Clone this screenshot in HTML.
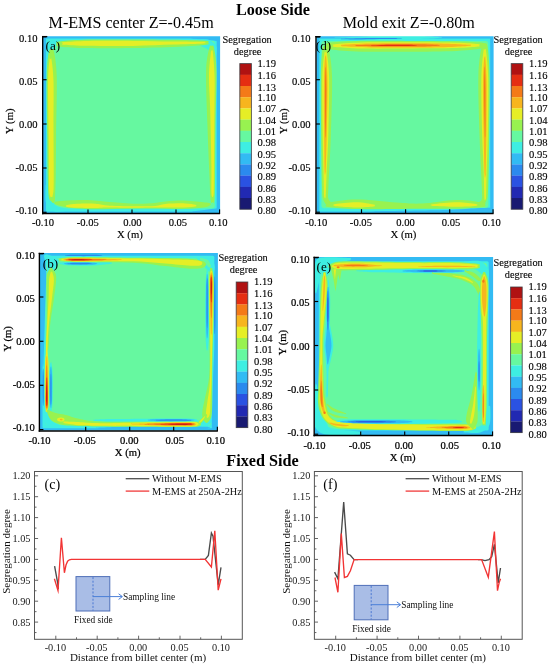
<!DOCTYPE html>
<html lang="en"><head><meta charset="utf-8"><title>Segregation degree - Loose Side / Fixed Side</title>
<style>html,body{margin:0;padding:0;background:#fff}body{width:550px;height:667px;overflow:hidden}svg{display:block}text{font-family:"Liberation Serif", "DejaVu Serif", serif}</style></head><body>
<svg width="550" height="667" viewBox="0 0 550 667">
<rect width="550" height="667" fill="#fff"/>
<defs><filter id="soft" x="-5%" y="-5%" width="110%" height="110%" color-interpolation-filters="sRGB"><feGaussianBlur stdDeviation="0.4"/></filter></defs>
<text x="236" y="15.3" font-size="16.15" font-weight="bold" fill="#000">Loose Side</text>
<text x="226.3" y="465.5" font-size="16.2" font-weight="bold" fill="#000">Fixed Side</text>
<text x="48.6" y="28.3" font-size="16.1" fill="#000">M-EMS center Z=-0.45m</text>
<text x="342.8" y="28.3" font-size="16.1" fill="#000">Mold exit Z=-0.80m</text>
<clipPath id="cpa"><rect x="0" y="0" width="176.8" height="176.8"/></clipPath>
<g transform="translate(43.1 36.2) scale(1.0011 1.0011)" clip-path="url(#cpa)"><g filter="url(#soft)">
<rect x="-4" y="-4" width="184.8" height="184.8" fill="#3eeee2"/>
<rect x="-4" y="-4" width="6.9" height="184.8" fill="#32bbf3"/>
<rect x="173.4" y="-4" width="7.4" height="184.8" fill="#32bbf3"/>
<rect x="-4" y="-4" width="184.8" height="6.3" fill="#32bbf3"/>
<rect x="-4" y="175.2" width="184.8" height="5.6" fill="#32bbf3"/>
<rect x="5" y="4.6" width="166.6" height="167.4" rx="3" fill="#66f8a0"/>
<path d="M149.6 175.22C149.61 175.35 147.44 175.5 150.02 175.6C152.6 175.7 160.56 175.77 165.07 175.8C169.59 175.83 174.78 176.15 177.1 175.8C179.42 175.45 179.03 174.37 179 173.7C178.96 173.03 179.25 171.92 176.9 171.8C174.56 171.69 169.41 172.5 164.93 173C160.44 173.5 152.53 174.43 149.98 174.8C147.42 175.17 149.59 175.09 149.6 175.22Z" fill="#32bbf3"/>
<path d="M149 1.58C148.99 1.91 146.82 2.2 149.98 2.6C153.13 3 163.46 3.6 167.94 4C172.43 4.4 174.94 5.24 176.88 5C178.83 4.75 179.56 3.38 179.6 2.52C179.64 1.65 179.04 0.22 177.12 -0.2C175.19 -0.62 172.57 -0.13 168.06 0C163.54 0.13 153.2 0.34 150.02 0.6C146.85 0.86 149.01 1.24 149 1.58Z" fill="#32bbf3"/>
<path d="M150.54 4.67C150.43 5.16 149.86 5.31 151.67 6.46C153.47 7.62 158.93 10.27 161.37 11.59C163.8 12.9 164.83 13.07 166.28 14.38C167.73 15.68 169.12 18.4 170.06 19.41C171 20.42 171.43 20.58 171.91 20.44C172.39 20.3 172.81 20.39 172.94 18.59C173.08 16.78 174.1 12.15 172.72 9.62C171.33 7.09 168.03 4.43 164.63 3.41C161.24 2.4 154.68 3.33 152.33 3.54C149.98 3.75 150.65 4.18 150.54 4.67Z" fill="#3eeee2"/>
<path d="M3.54 19.11C3.91 19.26 3.94 19.63 5.11 18.46C6.28 17.28 8.96 13.72 10.57 12.06C12.18 10.4 12.85 9.49 14.77 8.48C16.7 7.47 20.75 6.59 22.12 5.99C23.49 5.39 23.03 5.21 22.99 4.88C22.95 4.55 23.5 4.23 21.88 4.01C20.25 3.78 16.14 3.03 13.23 3.52C10.32 4.01 6.15 4.6 4.43 6.94C2.7 9.28 3.04 15.51 2.89 17.54C2.74 19.57 3.17 18.96 3.54 19.11Z" fill="#3eeee2"/>
<path d="M3.32 149.02C2.99 149.08 2.55 147.14 2.52 150.18C2.49 153.23 1.76 163.2 3.14 167.3C4.53 171.39 7.37 173.58 10.83 174.76C14.29 175.95 21.52 174.6 23.88 174.39C26.24 174.19 24.95 173.85 24.99 173.52C25.03 173.18 26.09 173.12 24.12 172.41C22.15 171.69 15.54 170.52 13.17 169.24C10.79 167.95 11.31 167.94 9.86 164.7C8.41 161.47 5.57 152.43 4.48 149.82C3.39 147.2 3.64 148.96 3.32 149.02Z" fill="#3eeee2"/>
<path d="M13.4 7.81C13.4 8.68 11.58 9.72 16.01 10.4C20.45 11.08 27.67 11.67 40.01 11.9C52.35 12.13 73.36 12.08 90.03 11.8C106.7 11.52 127.88 10.73 140.04 10.2C152.21 9.67 158.88 9.21 163.03 8.6C167.19 7.99 165.01 7.23 165 6.57C164.99 5.9 167.14 5.06 162.97 4.6C158.79 4.14 152.12 4 139.96 3.8C127.79 3.6 106.63 3.45 89.97 3.4C73.31 3.35 52.32 3.2 39.99 3.5C27.66 3.8 20.42 4.48 15.99 5.2C11.56 5.92 13.4 6.94 13.4 7.81Z" fill="#98f250"/>
<path d="M8.27 13.4C7.4 13.41 6.48 11.6 5.7 16.03C4.92 20.47 3.85 26.02 3.6 40.02C3.35 54.01 4.03 83.33 4.2 100C4.37 116.67 4.37 129.98 4.6 140.01C4.83 150.04 4.96 155.95 5.61 160.18C6.25 164.41 7.65 164.31 8.44 165.37C9.24 166.44 9.85 166.68 10.37 166.56C10.89 166.43 11.29 165.75 11.56 164.63C11.83 163.5 11.82 163.93 11.99 159.82C12.17 155.71 12.43 149.96 12.6 139.99C12.77 130.02 12.83 116.67 13 100C13.17 83.33 13.95 53.99 13.6 39.98C13.25 25.98 11.79 20.4 10.9 15.97C10.01 11.54 9.13 13.39 8.27 13.4Z" fill="#98f250"/>
<path d="M168.44 9.6C167.64 9.59 166.94 7.73 166 11.96C165.06 16.19 163.1 21.97 162.8 34.99C162.5 48 163.63 72.53 164.2 90.04C164.77 107.55 165.67 127.71 166.2 140.04C166.73 152.37 166.9 159.72 167.4 164.01C167.9 168.31 168.62 165.8 169.21 165.8C169.81 165.79 170.57 168.29 171 163.99C171.43 159.68 171.6 152.3 171.8 139.96C172 127.62 171.97 107.45 172.2 89.96C172.43 72.47 173.43 48 173.2 35.01C172.97 22.03 171.59 16.28 170.8 12.04C170.01 7.81 169.24 9.61 168.44 9.6Z" fill="#98f250"/>
<path d="M11.41 166.47C11.36 167 10.63 167.41 12.87 168.19C15.1 168.98 19.49 170.43 24.82 171.2C30.15 171.96 37.32 172.56 44.84 172.8C52.35 173.03 60.7 172.7 69.9 172.6C79.1 172.5 89.16 172.2 100.03 172.2C110.9 172.2 125.1 172.8 135.1 172.6C145.1 172.4 154.87 171.53 160.03 171C165.2 170.47 164.87 169.91 166.09 169.4C167.32 168.88 167.43 168.37 167.4 167.91C167.37 167.44 167.15 166.95 165.91 166.6C164.67 166.25 165.13 166.2 159.97 165.8C154.8 165.4 144.9 163.93 134.9 164.2C124.9 164.47 110.77 167.13 99.97 167.4C89.17 167.67 79.23 166.43 70.1 165.8C60.96 165.17 52.65 163.9 45.16 163.6C37.68 163.3 30.52 163.77 25.18 164C19.84 164.24 15.43 164.6 13.13 165.01C10.84 165.42 11.45 165.94 11.41 166.47Z" fill="#98f250"/>
<path d="M19.7 7.2C19.7 7.63 16.78 8.1 21 8.5C25.22 8.9 33.5 9.4 45 9.6C56.5 9.8 75.84 9.9 90.01 9.7C104.18 9.5 118.35 8.8 130.02 8.4C141.68 8 154.87 7.64 160.01 7.3C165.16 6.96 160.9 6.69 160.9 6.39C160.9 6.09 165.14 5.7 159.99 5.5C154.83 5.3 141.65 5.33 129.98 5.2C118.32 5.07 104.15 4.77 89.99 4.7C75.82 4.63 56.5 4.6 45 4.8C33.5 5 25.22 5.5 21 5.9C16.78 6.3 19.7 6.77 19.7 7.2Z" fill="#e6ee26"/>
<path d="M7.38 22.9C7.02 22.91 6.7 20.33 6.3 24.02C5.9 27.7 5.15 34.02 5 45.02C4.85 56.02 5.27 75.85 5.4 90.01C5.53 104.18 5.68 119.68 5.8 130.02C5.92 140.35 5.88 147.09 6.1 152.01C6.32 156.92 6.73 158.05 7.1 159.5C7.47 160.95 7.9 160.7 8.3 160.7C8.7 160.7 9.13 160.95 9.5 159.5C9.87 158.05 10.32 156.91 10.5 151.99C10.68 147.07 10.62 140.32 10.6 129.98C10.58 119.65 10.43 104.15 10.4 89.99C10.37 75.82 10.72 55.98 10.4 44.98C10.08 33.98 9 27.66 8.5 23.98C8 20.3 7.75 22.89 7.38 22.9Z" fill="#e6ee26"/>
<path d="M168.6 15C168.27 15 168.08 11.83 167.6 16C167.12 20.17 165.83 31.02 165.7 40.02C165.57 49.03 166.52 60.86 166.8 70.03C167.08 79.19 167.18 85.02 167.4 95.01C167.62 105.01 167.98 120 168.1 130C168.22 140 168 150 168.1 155C168.2 160 168.5 159.07 168.7 160C168.9 160.93 169.1 160.6 169.3 160.6C169.5 160.6 169.7 160.93 169.9 160C170.1 159.07 170.37 160 170.5 155C170.63 150 170.62 140 170.7 130C170.78 120 170.92 104.99 171 94.99C171.08 84.98 171.15 79.14 171.2 69.97C171.25 60.8 171.57 48.97 171.3 39.98C171.03 30.98 170.05 20.17 169.6 16C169.15 11.84 168.94 15 168.6 15Z" fill="#e6ee26"/>
<path d="M23.1 169.62C23.11 169.92 22.2 170.2 24.02 170.5C25.84 170.8 29.36 171.23 34.01 171.4C38.67 171.57 46.97 171.57 51.96 171.5C56.95 171.43 57.63 171.03 63.97 171C70.31 170.97 81.98 171.28 90 171.3C98.01 171.32 106.69 171.13 112.03 171.1C117.38 171.07 117.08 171.11 122.08 171.1C127.07 171.08 137.02 171.17 142.01 171C146.99 170.83 150.17 170.4 151.98 170.1C153.8 169.8 152.89 169.52 152.9 169.22C152.91 168.92 153.84 168.67 152.02 168.3C150.2 167.93 147.01 167.13 141.99 167C136.98 166.87 126.93 167.08 121.92 167.5C116.92 167.92 117.29 169.1 111.97 169.5C106.65 169.9 97.99 169.98 90 169.9C82.02 169.82 70.36 169.43 64.03 169C57.7 168.57 57.05 167.57 52.04 167.3C47.03 167.03 38.66 167.17 33.99 167.4C29.31 167.63 25.8 168.33 23.98 168.7C22.17 169.07 23.09 169.32 23.1 169.62Z" fill="#e6ee26"/>
</g></g>
<line x1="42.7" y1="35.9" x2="42.7" y2="214.3" stroke="#000" stroke-width="1.4"/>
<line x1="42" y1="213.6" x2="220.1" y2="213.6" stroke="#000" stroke-width="1.5"/>
<line x1="42" y1="36.55" x2="47.3" y2="36.55" stroke="#000" stroke-width="1.2"/>
<line x1="42.7" y1="36.9" x2="46.6" y2="36.9" stroke="#000" stroke-width="1.15"/>
<text x="37.6" y="41.8" font-size="10.6" text-anchor="end" fill="#000" stroke="#000" stroke-width="0.14">0.10</text>
<text x="43.1" y="226.1" font-size="10.6" text-anchor="middle" fill="#000" stroke="#000" stroke-width="0.14">-0.10</text>
<line x1="42.7" y1="79.7" x2="46.6" y2="79.7" stroke="#000" stroke-width="1.15"/>
<text x="37.6" y="84.9" font-size="10.6" text-anchor="end" fill="#000" stroke="#000" stroke-width="0.14">0.05</text>
<line x1="88" y1="213.6" x2="88" y2="209.4" stroke="#000" stroke-width="1.15"/>
<text x="87.7" y="226.1" font-size="10.6" text-anchor="middle" fill="#000" stroke="#000" stroke-width="0.14">-0.05</text>
<line x1="42.7" y1="124" x2="46.6" y2="124" stroke="#000" stroke-width="1.15"/>
<text x="37.6" y="128" font-size="10.6" text-anchor="end" fill="#000" stroke="#000" stroke-width="0.14">0.00</text>
<line x1="132" y1="213.6" x2="132" y2="209.4" stroke="#000" stroke-width="1.15"/>
<text x="132.4" y="226.1" font-size="10.6" text-anchor="middle" fill="#000" stroke="#000" stroke-width="0.14">0.00</text>
<line x1="42.7" y1="168" x2="46.6" y2="168" stroke="#000" stroke-width="1.15"/>
<text x="37.6" y="171.1" font-size="10.6" text-anchor="end" fill="#000" stroke="#000" stroke-width="0.14">-0.05</text>
<line x1="176" y1="213.6" x2="176" y2="209.4" stroke="#000" stroke-width="1.15"/>
<text x="177.9" y="226.1" font-size="10.6" text-anchor="middle" fill="#000" stroke="#000" stroke-width="0.14">0.05</text>
<line x1="42.7" y1="212.3" x2="46.6" y2="212.3" stroke="#000" stroke-width="1.15"/>
<text x="37.6" y="214.2" font-size="10.6" text-anchor="end" fill="#000" stroke="#000" stroke-width="0.14">-0.10</text>
<line x1="219.55" y1="213.6" x2="219.55" y2="209.4" stroke="#000" stroke-width="1.15"/>
<text x="218.3" y="226.1" font-size="10.6" text-anchor="middle" fill="#000" stroke="#000" stroke-width="0.14">0.10</text>
<text x="129.9" y="238.4" font-size="10.7" text-anchor="middle" fill="#000" stroke="#000" stroke-width="0.14">X (m)</text>
<text transform="translate(13.4 121.2) rotate(-90)" font-size="10.7" text-anchor="middle" fill="#000" stroke="#000" stroke-width="0.14">Y (m)</text>
<text x="45.6" y="50.3" font-size="13.2" fill="#000">(a)</text>
<rect x="239.8" y="63.6" width="11.6" height="11.35" fill="#b01212"/>
<rect x="239.8" y="74.8" width="11.6" height="11.35" fill="#e52e12"/>
<rect x="239.8" y="86" width="11.6" height="11.35" fill="#f47a18"/>
<rect x="239.8" y="97.2" width="11.6" height="11.35" fill="#f7b51e"/>
<rect x="239.8" y="108.4" width="11.6" height="11.35" fill="#e6ee26"/>
<rect x="239.8" y="119.6" width="11.6" height="11.35" fill="#98f250"/>
<rect x="239.8" y="130.8" width="11.6" height="11.35" fill="#66f8a0"/>
<rect x="239.8" y="142" width="11.6" height="11.35" fill="#3eeee2"/>
<rect x="239.8" y="153.2" width="11.6" height="11.35" fill="#32bbf3"/>
<rect x="239.8" y="164.4" width="11.6" height="11.35" fill="#2b8aee"/>
<rect x="239.8" y="175.6" width="11.6" height="11.35" fill="#2a52e2"/>
<rect x="239.8" y="186.8" width="11.6" height="11.35" fill="#2129b2"/>
<rect x="239.8" y="198" width="11.6" height="11.35" fill="#191a72"/>
<rect x="239.8" y="63.6" width="11.6" height="145.6" fill="none" stroke="#3a3a40" stroke-opacity=".85" stroke-width=".9"/>
<text x="257.6" y="66.7" font-size="10.55" fill="#000" stroke="#000" stroke-width=".12">1.19</text>
<text x="257.6" y="78.96" font-size="10.55" fill="#000" stroke="#000" stroke-width=".12">1.16</text>
<text x="257.6" y="90.92" font-size="10.55" fill="#000" stroke="#000" stroke-width=".12">1.13</text>
<text x="257.6" y="100.78" font-size="10.55" fill="#000" stroke="#000" stroke-width=".12">1.10</text>
<text x="257.6" y="112.14" font-size="10.55" fill="#000" stroke="#000" stroke-width=".12">1.07</text>
<text x="257.6" y="123.5" font-size="10.55" fill="#000" stroke="#000" stroke-width=".12">1.04</text>
<text x="257.6" y="134.86" font-size="10.55" fill="#000" stroke="#000" stroke-width=".12">1.01</text>
<text x="257.6" y="146.22" font-size="10.55" fill="#000" stroke="#000" stroke-width=".12">0.98</text>
<text x="257.6" y="157.58" font-size="10.55" fill="#000" stroke="#000" stroke-width=".12">0.95</text>
<text x="257.6" y="168.94" font-size="10.55" fill="#000" stroke="#000" stroke-width=".12">0.92</text>
<text x="257.6" y="180.3" font-size="10.55" fill="#000" stroke="#000" stroke-width=".12">0.89</text>
<text x="257.6" y="191.66" font-size="10.55" fill="#000" stroke="#000" stroke-width=".12">0.86</text>
<text x="257.6" y="203.02" font-size="10.55" fill="#000" stroke="#000" stroke-width=".12">0.83</text>
<text x="257.6" y="214.38" font-size="10.55" fill="#000" stroke="#000" stroke-width=".12">0.80</text>
<text x="222.4" y="42.5" font-size="10.35" fill="#000" stroke="#000" stroke-width=".1">Segregation</text>
<text x="233.8" y="54.9" font-size="10.35" fill="#000" stroke="#000" stroke-width=".1">degree</text>
<clipPath id="cpd"><rect x="0" y="0" width="176.8" height="176.8"/></clipPath>
<g transform="translate(316.4 36.3) scale(1.0023 1.0000)" clip-path="url(#cpd)"><g filter="url(#soft)">
<rect x="-4" y="-4" width="184.8" height="184.8" fill="#3eeee2"/>
<rect x="-4" y="-4" width="6.9" height="184.8" fill="#32bbf3"/>
<rect x="173.4" y="-4" width="7.4" height="184.8" fill="#32bbf3"/>
<rect x="-4" y="-4" width="184.8" height="6.3" fill="#32bbf3"/>
<rect x="-4" y="175.2" width="184.8" height="5.6" fill="#32bbf3"/>
<rect x="5" y="4.6" width="166.6" height="167.4" rx="3" fill="#66f8a0"/>
<path d="M43.6 1C43.6 1.13 40.27 1.13 44 1.4C47.73 1.67 56 2.4 66 2.6C76 2.8 94.34 2.8 104 2.6C113.67 2.4 120.6 1.67 124 1.4C127.4 1.13 124.4 1.13 124.4 1C124.4 0.86 127.4 0.83 124 0.6C120.6 0.37 113.66 -0.23 104 -0.4C94.33 -0.57 76 -0.57 66 -0.4C56 -0.23 47.74 0.37 44 0.6C40.27 0.83 43.6 0.86 43.6 1Z" fill="#3eeee2"/>
<path d="M19.7 1.4C19.7 1.5 14.95 1.65 20 1.7C25.06 1.75 40.01 1.8 50.01 1.7C60.01 1.6 74.92 1.28 80 1.1C85.09 0.92 80.5 0.76 80.5 0.6C80.5 0.43 85.08 0.18 80 0.1C74.91 0.02 59.99 -0.07 49.99 0.1C39.99 0.27 25.04 0.88 20 1.1C14.95 1.32 19.7 1.31 19.7 1.4Z" fill="#3eeee2"/>
<path d="M25.75 2.6C25.75 2.68 22.79 2.77 26 2.85C29.21 2.93 38 3.11 45 3.1C52 3.09 61.5 2.92 68 2.8C74.5 2.68 81.3 2.5 84 2.4C86.7 2.3 84.2 2.27 84.2 2.2C84.2 2.13 86.7 2.07 84 2C81.3 1.93 74.5 1.82 68 1.8C61.5 1.78 52 1.81 45 1.9C38 1.99 29.21 2.23 26 2.35C22.79 2.47 25.75 2.52 25.75 2.6Z" fill="#2b8aee"/>
<path d="M59.6 175.4C59.6 175.54 48.27 175.73 60 175.8C71.74 175.87 113.34 175.77 130.01 175.8C146.69 175.83 152.21 175.97 160.04 176C167.88 176.03 173.83 176.37 177.03 176C180.22 175.63 179.21 174.51 179.2 173.77C179.19 173.04 180.18 171.9 176.97 171.6C173.77 171.3 167.79 171.63 159.96 172C152.13 172.37 146.65 173.3 129.99 173.8C113.33 174.3 71.73 174.73 60 175C48.27 175.27 59.6 175.27 59.6 175.4Z" fill="#32bbf3"/>
<path d="M9 9.57C8.99 10.57 6.81 11.68 11.97 12.6C17.13 13.52 26.97 14.63 39.97 15.1C52.98 15.57 73.33 15.48 90.01 15.4C106.68 15.32 127.21 15.2 140.05 14.6C152.89 14 162.13 12.71 167.06 11.8C171.98 10.89 169.62 10.01 169.6 9.14C169.58 8.28 171.88 7.29 166.94 6.6C162 5.91 152.77 5.33 139.95 5C127.13 4.67 106.65 4.65 89.99 4.6C73.34 4.55 53.02 4.37 40.03 4.7C27.03 5.03 17.2 5.79 12.03 6.6C6.86 7.41 9.01 8.57 9 9.57Z" fill="#98f250"/>
<path d="M9.11 10C8.11 10.03 6.99 8.08 6.2 13.09C5.42 18.09 4.63 25.55 4.4 40.03C4.17 54.5 4.6 81.62 4.8 99.95C5 118.27 5.25 139.36 5.6 149.99C5.95 160.62 5.78 160.38 6.9 163.7C8.02 167.02 10.89 168.83 12.31 169.91C13.73 170.99 14.85 170.66 15.41 170.19C15.97 169.72 16.27 168.4 15.69 167.09C15.1 165.77 12.52 165.14 11.9 162.3C11.29 159.45 11.58 160.38 12 150.01C12.42 139.64 13.8 118.39 14.4 100.05C15 81.71 15.97 54.5 15.6 39.97C15.23 25.45 13.28 17.91 12.2 12.91C11.12 7.92 10.11 9.97 9.11 10Z" fill="#98f250"/>
<path d="M167.86 8C166.86 7.98 165.84 5.61 164.8 10.94C163.76 16.27 161.93 25.14 161.6 39.99C161.27 54.84 162.23 81.71 162.8 100.04C163.37 118.38 164.65 139.45 165 149.98C165.35 160.51 165.64 160.45 164.93 163.23C164.22 166 161.49 165.61 160.74 166.64C160 167.68 160.03 168.94 160.44 169.46C160.86 169.98 161.75 170.54 163.26 169.76C164.76 168.98 168.11 168.06 169.47 164.77C170.83 161.48 170.91 160.82 171.4 150.02C171.89 139.22 172.17 118.29 172.4 99.96C172.63 81.62 173.07 54.83 172.8 40.01C172.53 25.2 171.62 16.4 170.8 11.06C169.98 5.73 168.86 8.02 167.86 8Z" fill="#98f250"/>
<path d="M9.8 168.43C9.81 169.16 7.01 169.87 12.03 170.6C17.05 171.33 28.62 172.47 39.93 172.8C51.24 173.13 69.06 172.67 79.91 172.6C90.77 172.53 95.03 172.43 105.06 172.4C115.09 172.37 129.95 172.7 140.1 172.4C150.25 172.1 161.28 171.26 165.97 170.6C170.65 169.94 168.19 169.17 168.2 168.43C168.21 167.7 170.75 167.01 166.03 166.2C161.32 165.39 150.08 163.43 139.9 163.6C129.72 163.77 114.91 166.77 104.94 167.2C94.97 167.63 90.9 166.87 80.09 166.2C69.28 165.53 51.42 163.2 40.07 163.2C28.72 163.2 17.01 165.33 11.97 166.2C6.92 167.07 9.79 167.7 9.8 168.43Z" fill="#98f250"/>
<path d="M17.1 9.31C17.1 9.77 13.85 10.22 18.51 10.7C23.16 11.18 33.09 11.95 45.01 12.2C56.92 12.45 74.17 12.27 90 12.2C105.84 12.13 128.17 12.12 140 11.8C151.84 11.48 157.29 10.77 161.01 10.3C164.72 9.83 162.3 9.43 162.3 8.99C162.3 8.56 164.71 8.13 160.99 7.7C157.28 7.27 151.83 6.68 140 6.4C128.16 6.12 105.83 6.03 90 6C74.16 5.97 56.91 5.88 44.99 6.2C33.07 6.52 23.14 7.38 18.49 7.9C13.85 8.42 17.1 8.84 17.1 9.31Z" fill="#e6ee26"/>
<path d="M9.19 16.2C8.76 16.2 8.45 13.21 7.9 17.51C7.35 21.8 6.18 29.08 5.9 42C5.62 54.91 6 79.48 6.2 94.98C6.4 110.48 6.85 124.15 7.1 134.99C7.35 145.82 7.47 155.69 7.7 159.99C7.93 164.3 8.23 160.8 8.49 160.8C8.76 160.8 9 164.3 9.3 160.01C9.6 155.71 9.85 145.85 10.3 135.01C10.75 124.18 11.6 110.52 12 95.02C12.4 79.52 12.95 54.93 12.7 42C12.45 29.08 11.08 21.8 10.5 17.49C9.92 13.19 9.63 16.2 9.19 16.2Z" fill="#e6ee26"/>
<path d="M168 13.7C167.57 13.7 167.27 10.28 166.7 15C166.13 19.72 164.83 28.67 164.6 42.01C164.37 55.34 164.92 79.51 165.3 95.01C165.68 110.51 166.52 123.84 166.9 135C167.28 146.17 167.35 157.37 167.6 162C167.85 166.63 168.13 162.8 168.4 162.8C168.67 162.8 168.95 166.63 169.2 162C169.45 157.37 169.58 146.16 169.9 135C170.22 123.83 170.85 110.49 171.1 94.99C171.35 79.49 171.7 55.32 171.4 41.99C171.1 28.66 169.87 19.72 169.3 15C168.73 10.28 168.43 13.7 168 13.7Z" fill="#e6ee26"/>
<path d="M17.8 168.81C17.8 169.21 15.32 169.6 19.01 170C22.71 170.4 33.65 171.17 39.97 171.2C46.3 171.23 53.96 170.53 56.96 170.2C59.97 169.87 57.99 169.57 58 169.24C58.01 168.9 60.03 168.74 57.04 168.2C54.04 167.66 46.37 166.1 40.03 166C33.69 165.9 22.69 167.13 18.99 167.6C15.28 168.07 17.8 168.41 17.8 168.81Z" fill="#e6ee26"/>
<path d="M115.1 168.82C115.11 169.12 111.87 169.44 116.02 169.7C120.17 169.96 132.85 170.42 140.01 170.4C147.17 170.38 155.65 169.9 158.98 169.6C162.31 169.3 159.99 168.95 160 168.62C160.01 168.29 162.36 168.04 159.02 167.6C155.69 167.16 147.16 165.95 139.99 166C132.82 166.05 120.13 167.43 115.98 167.9C111.83 168.37 115.09 168.52 115.1 168.82Z" fill="#e6ee26"/>
<path d="M26.2 9.2C26.2 9.47 22.2 9.67 27 10C31.8 10.33 42.84 11 55 11.2C67.17 11.4 86.67 11.3 100 11.2C113.34 11.1 126.17 10.88 135 10.6C143.84 10.32 149.92 9.77 153 9.5C156.09 9.23 153.5 9.16 153.5 9C153.5 8.83 156.08 8.73 153 8.5C149.91 8.27 143.83 7.85 135 7.6C126.16 7.35 113.33 7.07 100 7C86.66 6.93 67.16 6.97 55 7.2C42.83 7.43 31.8 8.07 27 8.4C22.2 8.73 26.2 8.93 26.2 9.2Z" fill="#f7b51e"/>
<path d="M39.6 9.2C39.6 9.33 34.93 9.43 40 9.6C45.07 9.77 59.17 10.15 70 10.25C80.83 10.35 96.33 10.32 105 10.2C113.67 10.08 119.1 9.68 122 9.5C124.9 9.32 122.4 9.23 122.4 9.1C122.4 8.97 124.9 8.88 122 8.7C119.1 8.52 113.67 8.12 105 8C96.33 7.88 80.83 7.82 70 7.95C59.16 8.08 45.07 8.59 40 8.8C34.93 9.01 39.6 9.07 39.6 9.2Z" fill="#f47a18"/>
<path d="M55.8 9.2C55.8 9.27 52.8 9.32 56 9.4C59.2 9.48 69 9.66 75 9.7C81 9.74 87.83 9.72 92 9.65C96.17 9.58 98.63 9.39 100 9.3C101.37 9.21 100.2 9.17 100.2 9.1C100.2 9.03 101.37 8.99 100 8.9C98.63 8.81 96.17 8.62 92 8.55C87.83 8.48 81 8.43 75 8.5C69 8.58 59.2 8.88 56 9C52.8 9.12 55.8 9.13 55.8 9.2Z" fill="#e52e12"/>
<path d="M9.2 20.4C9 20.4 8.87 16.9 8.6 21C8.33 25.1 7.75 33.5 7.6 45C7.45 56.5 7.58 74.99 7.7 89.99C7.82 104.99 8.12 127.41 8.3 135C8.48 142.58 8.63 135.5 8.8 135.5C8.96 135.5 9.02 142.59 9.3 135C9.58 127.42 10.22 105.01 10.5 90.01C10.78 75.01 11.12 56.5 11 45C10.88 33.5 10.1 25.1 9.8 21C9.5 16.9 9.4 20.4 9.2 20.4Z" fill="#f7b51e"/>
<path d="M9.3 31.75C9.22 31.75 9.17 28.63 9.05 32C8.93 35.37 8.66 44 8.6 52C8.54 60 8.65 72 8.7 80C8.75 88 8.83 96.63 8.9 100C8.97 103.37 9.03 100.2 9.1 100.2C9.17 100.2 9.2 103.37 9.3 100C9.4 96.63 9.58 88 9.7 80C9.82 72 10.02 60 10 52C9.97 44 9.67 35.38 9.55 32C9.43 28.62 9.38 31.75 9.3 31.75Z" fill="#f47a18"/>
<path d="M168 21.4C167.8 21.4 167.7 17.73 167.4 22C167.1 26.27 166.3 35.34 166.2 47.01C166.1 58.67 166.52 76.84 166.8 92.01C167.08 107.17 167.63 130.25 167.9 138C168.17 145.75 168.24 138.5 168.4 138.5C168.57 138.5 168.7 145.75 168.9 138C169.1 130.25 169.45 107.16 169.6 91.99C169.75 76.83 169.97 58.66 169.8 46.99C169.63 35.33 168.9 26.27 168.6 22C168.3 17.73 168.2 21.4 168 21.4Z" fill="#f7b51e"/>
<path d="M168 31.75C167.92 31.75 167.87 28.29 167.75 32C167.63 35.71 167.31 45.67 167.3 54C167.29 62.34 167.57 74.34 167.7 82C167.83 89.67 168 96.97 168.1 100C168.2 103.03 168.23 100.2 168.3 100.2C168.37 100.2 168.43 103.03 168.5 100C168.57 96.97 168.67 89.66 168.7 82C168.73 74.33 168.77 62.33 168.7 54C168.62 45.66 168.37 35.71 168.25 32C168.13 28.29 168.08 31.75 168 31.75Z" fill="#f47a18"/>
</g></g>
<line x1="316" y1="36" x2="316" y2="214.1" stroke="#000" stroke-width="1.4"/>
<line x1="315.3" y1="213.4" x2="493.6" y2="213.4" stroke="#000" stroke-width="1.5"/>
<line x1="315.3" y1="36.65" x2="320.6" y2="36.65" stroke="#000" stroke-width="1.2"/>
<line x1="316" y1="37" x2="319.9" y2="37" stroke="#000" stroke-width="1.15"/>
<text x="310.5" y="41.8" font-size="10.6" text-anchor="end" fill="#000" stroke="#000" stroke-width="0.14">0.10</text>
<text x="316.3" y="226.1" font-size="10.6" text-anchor="middle" fill="#000" stroke="#000" stroke-width="0.14">-0.10</text>
<line x1="316" y1="79.7" x2="319.9" y2="79.7" stroke="#000" stroke-width="1.15"/>
<text x="310.5" y="84.9" font-size="10.6" text-anchor="end" fill="#000" stroke="#000" stroke-width="0.14">0.05</text>
<line x1="361.5" y1="213.4" x2="361.5" y2="209.2" stroke="#000" stroke-width="1.15"/>
<text x="360.9" y="226.1" font-size="10.6" text-anchor="middle" fill="#000" stroke="#000" stroke-width="0.14">-0.05</text>
<line x1="316" y1="124" x2="319.9" y2="124" stroke="#000" stroke-width="1.15"/>
<text x="310.5" y="128" font-size="10.6" text-anchor="end" fill="#000" stroke="#000" stroke-width="0.14">0.00</text>
<line x1="405.6" y1="213.4" x2="405.6" y2="209.2" stroke="#000" stroke-width="1.15"/>
<text x="405.6" y="226.1" font-size="10.6" text-anchor="middle" fill="#000" stroke="#000" stroke-width="0.14">0.00</text>
<line x1="316" y1="168" x2="319.9" y2="168" stroke="#000" stroke-width="1.15"/>
<text x="310.5" y="171.1" font-size="10.6" text-anchor="end" fill="#000" stroke="#000" stroke-width="0.14">-0.05</text>
<line x1="449.7" y1="213.4" x2="449.7" y2="209.2" stroke="#000" stroke-width="1.15"/>
<text x="451.1" y="226.1" font-size="10.6" text-anchor="middle" fill="#000" stroke="#000" stroke-width="0.14">0.05</text>
<line x1="316" y1="212.2" x2="319.9" y2="212.2" stroke="#000" stroke-width="1.15"/>
<text x="310.5" y="214.2" font-size="10.6" text-anchor="end" fill="#000" stroke="#000" stroke-width="0.14">-0.10</text>
<line x1="493.05" y1="213.4" x2="493.05" y2="209.2" stroke="#000" stroke-width="1.15"/>
<text x="491.5" y="226.1" font-size="10.6" text-anchor="middle" fill="#000" stroke="#000" stroke-width="0.14">0.10</text>
<text x="403.5" y="238.4" font-size="10.7" text-anchor="middle" fill="#000" stroke="#000" stroke-width="0.14">X (m)</text>
<text transform="translate(286.6 121.2) rotate(-90)" font-size="10.7" text-anchor="middle" fill="#000" stroke="#000" stroke-width="0.14">Y (m)</text>
<text x="315.8" y="50.3" font-size="13.2" fill="#000">(d)</text>
<rect x="511.2" y="63.6" width="11.6" height="11.35" fill="#b01212"/>
<rect x="511.2" y="74.8" width="11.6" height="11.35" fill="#e52e12"/>
<rect x="511.2" y="86" width="11.6" height="11.35" fill="#f47a18"/>
<rect x="511.2" y="97.2" width="11.6" height="11.35" fill="#f7b51e"/>
<rect x="511.2" y="108.4" width="11.6" height="11.35" fill="#e6ee26"/>
<rect x="511.2" y="119.6" width="11.6" height="11.35" fill="#98f250"/>
<rect x="511.2" y="130.8" width="11.6" height="11.35" fill="#66f8a0"/>
<rect x="511.2" y="142" width="11.6" height="11.35" fill="#3eeee2"/>
<rect x="511.2" y="153.2" width="11.6" height="11.35" fill="#32bbf3"/>
<rect x="511.2" y="164.4" width="11.6" height="11.35" fill="#2b8aee"/>
<rect x="511.2" y="175.6" width="11.6" height="11.35" fill="#2a52e2"/>
<rect x="511.2" y="186.8" width="11.6" height="11.35" fill="#2129b2"/>
<rect x="511.2" y="198" width="11.6" height="11.35" fill="#191a72"/>
<rect x="511.2" y="63.6" width="11.6" height="145.6" fill="none" stroke="#3a3a40" stroke-opacity=".85" stroke-width=".9"/>
<text x="529" y="66.7" font-size="10.55" fill="#000" stroke="#000" stroke-width=".12">1.19</text>
<text x="529" y="78.96" font-size="10.55" fill="#000" stroke="#000" stroke-width=".12">1.16</text>
<text x="529" y="90.92" font-size="10.55" fill="#000" stroke="#000" stroke-width=".12">1.13</text>
<text x="529" y="100.78" font-size="10.55" fill="#000" stroke="#000" stroke-width=".12">1.10</text>
<text x="529" y="112.14" font-size="10.55" fill="#000" stroke="#000" stroke-width=".12">1.07</text>
<text x="529" y="123.5" font-size="10.55" fill="#000" stroke="#000" stroke-width=".12">1.04</text>
<text x="529" y="134.86" font-size="10.55" fill="#000" stroke="#000" stroke-width=".12">1.01</text>
<text x="529" y="146.22" font-size="10.55" fill="#000" stroke="#000" stroke-width=".12">0.98</text>
<text x="529" y="157.58" font-size="10.55" fill="#000" stroke="#000" stroke-width=".12">0.95</text>
<text x="529" y="168.94" font-size="10.55" fill="#000" stroke="#000" stroke-width=".12">0.92</text>
<text x="529" y="180.3" font-size="10.55" fill="#000" stroke="#000" stroke-width=".12">0.89</text>
<text x="529" y="191.66" font-size="10.55" fill="#000" stroke="#000" stroke-width=".12">0.86</text>
<text x="529" y="203.02" font-size="10.55" fill="#000" stroke="#000" stroke-width=".12">0.83</text>
<text x="529" y="214.38" font-size="10.55" fill="#000" stroke="#000" stroke-width=".12">0.80</text>
<text x="493.4" y="42.5" font-size="10.35" fill="#000" stroke="#000" stroke-width=".1">Segregation</text>
<text x="504.8" y="54.9" font-size="10.35" fill="#000" stroke="#000" stroke-width=".1">degree</text>
<clipPath id="cpb"><rect x="-0.7" y="-0.1" width="178" height="177.5"/></clipPath>
<g transform="translate(40.6 253.2)" clip-path="url(#cpb)"><g filter="url(#soft)">
<rect x="-4.7" y="-4.1" width="186" height="185.5" fill="#32bbf3"/>
<rect x="1.9" y="2.5" width="171.8" height="172.5" rx="1.5" fill="#3eeee2"/>
<rect x="4.9" y="5.1" width="166" height="166.9" rx="3" fill="#66f8a0"/>
<path d="M2.57 -1.6C2.03 -1.59 1.36 -3.57 1 0.03C0.64 3.63 0.37 10.02 0.4 20.01C0.43 30 0.97 44.99 1.2 59.99C1.43 74.99 1.6 101.56 1.8 110C2 118.43 2.2 110.6 2.4 110.6C2.6 110.6 2.67 118.44 3 110C3.33 101.57 3.97 75.01 4.4 60.01C4.83 45.01 5.63 30 5.6 19.99C5.57 9.98 4.71 3.57 4.2 -0.03C3.69 -3.63 3.1 -1.61 2.57 -1.6Z" fill="#32bbf3"/>
<path d="M3.7 2.08C3.06 2.85 3.73 4.83 4.08 6.3C4.43 7.78 5.39 9.25 5.79 10.91C6.19 12.57 6.46 13.11 6.48 16.25C6.5 19.38 5.81 27.14 5.93 29.7C6.05 32.25 6.67 31.47 7.2 31.57C7.72 31.67 8.02 32.6 9.07 30.3C10.12 28 12 21.62 13.52 17.75C15.04 13.89 19.15 9.76 18.21 7.09C17.28 4.41 10.34 2.53 7.92 1.7C5.5 0.86 4.34 1.31 3.7 2.08Z" fill="#3eeee2"/>
<path d="M156.13 4.3C155.89 4.92 156.2 5.52 157.3 6.87C158.39 8.22 161.24 10.88 162.7 12.4C164.16 13.92 164.75 14.62 166.06 15.97C167.38 17.31 169.51 19.57 170.58 20.47C171.65 21.38 172 21.58 172.47 21.42C172.95 21.26 173.18 21.09 173.42 19.53C173.67 17.96 174.62 14.69 173.94 12.03C173.25 9.38 171.84 5.08 169.3 3.6C166.76 2.12 160.9 3.01 158.7 3.13C156.51 3.24 156.36 3.67 156.13 4.3Z" fill="#3eeee2"/>
<path d="M3.72 148.53C3.23 148.62 2.65 147.73 2.53 150.28C2.41 152.84 2.28 160.18 3.01 163.87C3.74 167.56 4.48 170.66 6.9 172.41C9.32 174.17 15.44 174.25 17.53 174.42C19.61 174.6 19.26 173.95 19.42 173.47C19.58 173 19.86 172.56 18.47 171.58C17.09 170.6 12.51 169.16 11.1 167.59C9.69 166.01 10.93 165.1 9.99 162.13C9.05 159.15 6.52 151.98 5.47 149.72C4.43 147.45 4.21 148.43 3.72 148.53Z" fill="#3eeee2"/>
<path d="M148.52 172.23C148.59 172.72 147.64 173.35 150.23 173.48C152.82 173.61 160.22 174.18 164.06 173.02C167.89 171.86 171.6 170.34 173.25 166.54C174.91 162.75 174.06 153.25 173.98 150.25C173.9 147.24 173.24 148.6 172.75 148.52C172.25 148.44 172.02 147.26 171.02 149.75C170.02 152.24 168.26 160.58 166.75 163.46C165.24 166.33 164.77 165.8 161.94 166.98C159.11 168.16 152.01 169.64 149.77 170.52C147.53 171.39 148.44 171.73 148.52 172.23Z" fill="#3eeee2"/>
<path d="M159.28 5.24C159.17 5.48 158.76 5.47 159.64 6.32C160.53 7.16 163.24 9.05 164.6 10.3C165.97 11.54 166.98 13.15 167.84 13.79C168.71 14.43 169.4 14.42 169.79 14.16C170.17 13.89 170.56 13.42 170.16 12.21C169.76 11 169.03 8.12 167.4 6.9C165.76 5.68 161.71 5.16 160.36 4.88C159.01 4.61 159.4 5 159.28 5.24Z" fill="#66f8a0"/>
<path d="M19.2 10.18C19.19 10.45 18.19 10.65 19.98 11C21.78 11.35 24.15 12.1 29.99 12.3C35.83 12.5 48.35 12.48 55.03 12.2C61.7 11.92 67.4 11 70.03 10.6C72.66 10.19 70.81 10.03 70.8 9.77C70.79 9.5 72.61 9.2 69.97 9C67.33 8.81 61.63 8.68 54.97 8.6C48.31 8.52 35.84 8.37 30.01 8.5C24.18 8.63 21.82 9.12 20.02 9.4C18.21 9.68 19.21 9.92 19.2 10.18Z" fill="#3eeee2"/>
<path d="M18.6 6.5C18.6 6.97 17.27 7.47 20 7.9C22.73 8.33 26.67 8.92 34.99 9.1C43.32 9.28 59.16 8.85 69.97 9C80.79 9.15 90.76 9.35 99.89 10C109.01 10.65 116.44 11.98 124.74 12.89C133.04 13.81 143.51 15.21 149.7 15.49C155.88 15.77 159.21 15.28 161.83 14.6C164.45 13.91 165.34 12.5 165.4 11.37C165.45 10.24 164.69 8.75 162.17 7.8C159.65 6.86 156.46 6.19 150.3 5.71C144.15 5.23 133.63 5.09 125.26 4.91C116.9 4.72 109.32 4.72 100.11 4.6C90.91 4.48 80.88 4.32 70.03 4.2C59.18 4.08 43.34 3.75 35.01 3.9C26.67 4.05 22.73 4.67 20 5.1C17.27 5.53 18.6 6.03 18.6 6.5Z" fill="#98f250"/>
<path d="M21.1 6.5C21.1 6.8 19.68 7.1 22 7.4C24.32 7.7 27 8.2 35 8.3C43 8.4 59.17 8.02 69.99 8C80.82 7.98 90.81 7.8 99.96 8.2C109.1 8.6 116.56 9.68 124.88 10.4C133.19 11.11 144.09 12.2 149.85 12.5C155.6 12.8 157.43 12.6 159.41 12.2C161.38 11.8 161.67 10.83 161.7 10.09C161.73 9.36 161.52 8.37 159.59 7.8C157.67 7.24 155.9 7 150.15 6.7C144.41 6.4 133.47 6.22 125.12 6C116.77 5.79 109.23 5.57 100.04 5.4C90.86 5.23 80.85 5.12 70.01 5C59.17 4.88 43 4.6 35 4.7C27 4.8 24.32 5.3 22 5.6C19.68 5.9 21.1 6.2 21.1 6.5Z" fill="#e6ee26"/>
<path d="M23 6.5C23 6.67 22.67 6.78 23.5 7C24.33 7.22 24.42 7.67 28 7.8C31.58 7.93 39.33 7.85 45 7.8C50.67 7.75 56.17 7.65 62 7.5C67.83 7.35 76.93 7.07 80 6.9C83.07 6.73 80.4 6.63 80.4 6.5C80.4 6.37 83.07 6.27 80 6.1C76.93 5.93 67.83 5.65 62 5.5C56.17 5.35 50.67 5.25 45 5.2C39.33 5.15 31.58 5.07 28 5.2C24.42 5.33 24.33 5.78 23.5 6C22.67 6.22 23 6.33 23 6.5Z" fill="#f7b51e"/>
<path d="M25.1 6.5C25.1 6.63 24.68 6.73 25.5 6.9C26.32 7.07 26.75 7.41 30 7.5C33.25 7.59 40.67 7.52 45 7.45C49.33 7.38 52.67 7.22 56 7.1C59.33 6.98 63.46 6.85 65 6.75C66.54 6.65 65.25 6.58 65.25 6.5C65.25 6.42 66.54 6.35 65 6.25C63.46 6.15 59.33 6.02 56 5.9C52.67 5.78 49.33 5.62 45 5.55C40.67 5.48 33.25 5.41 30 5.5C26.75 5.59 26.32 5.93 25.5 6.1C24.68 6.27 25.1 6.37 25.1 6.5Z" fill="#f47a18"/>
<path d="M27.7 6.5C27.7 6.6 27.28 6.67 28 6.8C28.72 6.92 29.5 7.18 32 7.25C34.5 7.32 39.83 7.28 43 7.2C46.17 7.12 49.62 6.92 51 6.8C52.38 6.68 51.3 6.6 51.3 6.5C51.3 6.4 52.38 6.32 51 6.2C49.62 6.08 46.17 5.88 43 5.8C39.83 5.72 34.5 5.68 32 5.75C29.5 5.82 28.72 6.08 28 6.2C27.28 6.33 27.7 6.4 27.7 6.5Z" fill="#e52e12"/>
<path d="M31.9 6.5C31.9 6.53 31.48 6.55 32 6.6C32.52 6.65 33.67 6.75 35 6.78C36.33 6.81 38.58 6.79 40 6.76C41.42 6.73 42.9 6.64 43.5 6.6C44.1 6.56 43.6 6.53 43.6 6.5C43.6 6.47 44.1 6.44 43.5 6.4C42.9 6.36 41.42 6.27 40 6.24C38.58 6.21 36.33 6.19 35 6.22C33.67 6.25 32.52 6.35 32 6.4C31.48 6.45 31.9 6.47 31.9 6.5Z" fill="#b01212"/>
<path d="M24.75 2.2C24.75 2.28 23.64 2.33 25 2.45C26.36 2.56 28.24 2.82 32.92 2.9C37.6 2.98 48.4 2.98 53.08 2.9C57.76 2.82 59.64 2.56 61 2.45C62.36 2.33 61.24 2.28 61.24 2.2C61.24 2.12 62.36 2.07 61 1.96C59.64 1.84 57.76 1.58 53.08 1.5C48.4 1.42 37.6 1.42 32.92 1.5C28.24 1.58 26.36 1.84 25 1.96C23.64 2.07 24.75 2.12 24.75 2.2Z" fill="#2b8aee"/>
<path d="M23.58 10.4C23.58 10.54 22.76 10.62 24 10.82C25.24 11.02 26.88 11.47 31.04 11.6C35.2 11.73 44.8 11.73 48.96 11.6C53.12 11.47 54.76 11.02 56 10.82C57.24 10.62 56.42 10.54 56.42 10.4C56.42 10.26 57.24 10.18 56 9.98C54.76 9.78 53.12 9.33 48.96 9.2C44.8 9.07 35.2 9.07 31.04 9.2C26.88 9.33 25.24 9.78 24 9.98C22.76 10.18 23.58 10.26 23.58 10.4Z" fill="#32bbf3"/>
<path d="M26.81 10.4C26.81 10.46 26.09 10.5 27 10.59C27.91 10.68 29.16 10.89 32.28 10.95C35.4 11.01 42.6 11.01 45.72 10.95C48.84 10.89 50.09 10.68 51 10.59C51.91 10.5 51.19 10.46 51.19 10.4C51.19 10.34 51.91 10.3 51 10.21C50.09 10.12 48.84 9.91 45.72 9.85C42.6 9.79 35.4 9.79 32.28 9.85C29.16 9.91 27.91 10.12 27 10.21C26.09 10.3 26.81 10.34 26.81 10.4Z" fill="#2b8aee"/>
<path d="M10.55 14.5C9.88 14.52 9.36 14.99 8.6 16.55C7.84 18.11 6.4 19.16 6 23.87C5.6 28.57 6.17 37.27 6.21 44.78C6.24 52.28 6.35 60.53 6.2 68.89C6.05 77.24 5.25 90.36 5.3 94.93C5.36 99.5 6.1 96.27 6.53 96.3C6.96 96.32 7.35 99.6 7.9 95.07C8.44 90.54 8.88 77.42 9.8 69.11C10.71 60.81 12.43 52.72 13.39 45.22C14.36 37.73 15.73 28.93 15.6 24.13C15.47 19.34 13.44 18.05 12.6 16.45C11.76 14.84 11.21 14.48 10.55 14.5Z" fill="#98f250"/>
<path d="M10.9 18.5C10.57 18.5 10.3 18.1 9.9 19.5C9.5 20.9 8.82 22.66 8.5 26.89C8.19 31.11 8.31 37.86 8.01 44.87C7.71 51.87 7.12 61.41 6.7 68.93C6.29 76.45 5.73 82.8 5.5 89.97C5.27 97.15 5.18 108.17 5.3 112C5.42 115.82 5.9 112.9 6.2 112.9C6.5 112.9 6.95 115.82 7.1 112C7.25 108.19 6.87 97.18 7.1 90.03C7.33 82.87 7.78 76.55 8.5 69.07C9.21 61.59 10.59 52.13 11.39 45.13C12.19 38.14 13.21 31.39 13.3 27.11C13.38 22.84 12.3 20.94 11.9 19.5C11.5 18.06 11.23 18.5 10.9 18.5Z" fill="#e6ee26"/>
<path d="M10.3 109.41C10.1 109.41 9.99 108.14 9.71 110C9.42 111.86 8.78 114.32 8.6 120.56C8.42 126.8 8.42 141.2 8.6 147.44C8.78 153.68 9.42 156.14 9.71 158C9.99 159.86 10.1 158.59 10.3 158.59C10.5 158.59 10.61 159.86 10.9 158C11.18 156.14 11.82 153.68 12 147.44C12.18 141.2 12.18 126.8 12 120.56C11.82 114.32 11.18 111.86 10.9 110C10.61 108.14 10.5 109.41 10.3 109.41Z" fill="#3eeee2"/>
<path d="M6.2 99.33C5.98 99.33 5.85 97.78 5.54 100C5.22 102.22 4.51 105.18 4.3 112.65C4.09 120.12 4.17 137.38 4.3 144.85C4.43 152.32 4.74 155.2 5.06 157.5C5.38 159.8 5.82 158.64 6.2 158.64C6.58 158.64 7.02 159.8 7.34 157.5C7.66 155.2 7.97 152.32 8.1 144.85C8.23 137.38 8.31 120.12 8.1 112.65C7.89 105.18 7.18 102.22 6.87 100C6.55 97.78 6.42 99.33 6.2 99.33Z" fill="#e6ee26"/>
<path d="M6.2 103.6C6.07 103.6 5.95 101.6 5.8 104C5.65 106.4 5.45 112.83 5.3 118C5.15 123.17 4.98 129.33 4.9 135C4.83 140.67 4.72 148.5 4.85 152C4.98 155.5 5.47 155.25 5.7 156C5.93 156.75 6.03 156.5 6.2 156.5C6.37 156.5 6.47 156.75 6.7 156C6.93 155.25 7.42 155.5 7.55 152C7.68 148.5 7.58 140.67 7.5 135C7.42 129.33 7.25 123.17 7.1 118C6.95 112.83 6.75 106.4 6.6 104C6.45 101.6 6.33 103.6 6.2 103.6Z" fill="#f7b51e"/>
<path d="M6.2 112.75C6.12 112.75 6.05 111.12 5.95 113C5.85 114.88 5.72 120.17 5.6 124C5.48 127.83 5.32 131.5 5.25 136C5.18 140.5 5.11 147.92 5.2 151C5.29 154.08 5.63 153.85 5.8 154.5C5.97 155.15 6.07 154.9 6.2 154.9C6.33 154.9 6.43 155.15 6.6 154.5C6.77 153.85 7.11 154.08 7.2 151C7.29 147.92 7.22 140.5 7.15 136C7.08 131.5 6.92 127.83 6.8 124C6.68 120.17 6.55 114.88 6.45 113C6.35 111.12 6.28 112.75 6.2 112.75Z" fill="#f47a18"/>
<path d="M6.2 124.7C6.1 124.7 6.03 122.95 5.9 125C5.78 127.05 5.53 133 5.45 137C5.37 141 5.33 146.42 5.4 149C5.48 151.58 5.77 151.87 5.9 152.5C6.03 153.13 6.1 152.8 6.2 152.8C6.3 152.8 6.37 153.13 6.5 152.5C6.63 151.87 6.92 151.58 7 149C7.08 146.42 7.03 141 6.95 137C6.87 133 6.62 127.05 6.5 125C6.38 122.95 6.3 124.7 6.2 124.7Z" fill="#e52e12"/>
<path d="M6.2 132.4C6.17 132.4 6.14 131.4 6.1 132.5C6.06 133.6 5.97 136.75 5.94 139C5.91 141.25 5.89 144.42 5.92 146C5.95 147.58 6.05 148.07 6.1 148.5C6.15 148.93 6.17 148.6 6.2 148.6C6.23 148.6 6.25 148.93 6.3 148.5C6.35 148.07 6.45 147.58 6.48 146C6.51 144.42 6.49 141.25 6.46 139C6.43 136.75 6.34 133.6 6.3 132.5C6.26 131.4 6.23 132.4 6.2 132.4Z" fill="#b01212"/>
<path d="M10.3 113.58C10.16 113.58 10.08 112.46 9.88 114C9.68 115.54 9.23 117.6 9.1 122.8C8.97 128 8.97 140 9.1 145.2C9.23 150.4 9.68 152.46 9.88 154C10.08 155.54 10.16 154.42 10.3 154.42C10.44 154.42 10.52 155.54 10.72 154C10.92 152.46 11.37 150.4 11.5 145.2C11.63 140 11.63 128 11.5 122.8C11.37 117.6 10.92 115.54 10.72 114C10.52 112.46 10.44 113.58 10.3 113.58Z" fill="#32bbf3"/>
<path d="M10.3 120.81C10.24 120.81 10.2 119.87 10.11 121C10.02 122.13 9.81 123.7 9.75 127.6C9.69 131.5 9.69 140.5 9.75 144.4C9.81 148.3 10.02 149.87 10.11 151C10.2 152.13 10.24 151.19 10.3 151.19C10.36 151.19 10.4 152.13 10.49 151C10.58 149.87 10.79 148.3 10.85 144.4C10.91 140.5 10.91 131.5 10.85 127.6C10.79 123.7 10.58 122.13 10.49 121C10.4 119.87 10.36 120.81 10.3 120.81Z" fill="#2b8aee"/>
<path d="M2.6 115.79C2.53 115.79 2.49 114.64 2.39 116C2.29 117.36 2.06 119.24 2 123.92C1.94 128.6 1.94 139.4 2 144.08C2.06 148.76 2.29 150.65 2.39 152C2.49 153.35 2.53 152.21 2.6 152.21C2.67 152.21 2.71 153.35 2.81 152C2.91 150.65 3.14 148.76 3.2 144.08C3.27 139.4 3.27 128.6 3.2 123.92C3.14 119.24 2.91 117.36 2.81 116C2.71 114.64 2.67 115.79 2.6 115.79Z" fill="#2b8aee"/>
<path d="M175.22 98.4C174.69 98.39 174.14 93.05 173.6 99.98C173.06 106.9 172.37 127.14 172 139.97C171.63 152.81 171 170.31 171.4 176.98C171.8 183.65 173.38 179.99 174.38 180C175.38 180.01 176.93 183.68 177.4 177.02C177.87 170.35 177.3 152.86 177.2 140.03C177.1 127.19 177.13 106.96 176.8 100.02C176.47 93.09 175.76 98.41 175.22 98.4Z" fill="#32bbf3"/>
<path d="M166.6 17.37C166.39 17.37 166.27 15.04 165.97 18C165.67 20.96 164.99 25.02 164.8 35.16C164.6 45.3 164.6 68.7 164.8 78.84C164.99 88.98 165.67 93.03 165.97 96C166.27 98.97 166.39 96.63 166.6 96.63C166.81 96.63 166.93 98.97 167.23 96C167.53 93.03 168.21 88.98 168.4 78.84C168.59 68.7 168.59 45.3 168.4 35.16C168.21 25.02 167.53 20.96 167.23 18C166.93 15.04 166.81 17.37 166.6 17.37Z" fill="#3eeee2"/>
<path d="M170.59 14.8C170.19 14.8 169.83 13.47 169.4 16.01C168.97 18.54 168.18 22.68 168 30.01C167.82 37.34 168.13 48.33 168.3 59.99C168.47 71.66 168.98 89.16 169 99.98C169.02 110.8 169.17 117.47 168.4 124.91C167.64 132.35 165.55 138.86 164.42 144.63C163.29 150.41 161.89 155.94 161.62 159.56C161.35 163.17 162.11 164.61 162.81 166.3C163.5 167.99 164.74 169.63 165.8 169.69C166.87 169.76 168.3 168.24 169.19 166.7C170.09 165.15 170.78 164 171.18 160.44C171.58 156.89 171.51 151.26 171.58 145.37C171.65 139.48 171.53 132.65 171.6 125.09C171.67 117.53 171.75 110.86 172 100.02C172.25 89.17 172.87 71.68 173.1 60.01C173.33 48.34 173.62 37.33 173.4 29.99C173.18 22.66 172.27 18.52 171.8 15.99C171.33 13.46 170.99 14.8 170.59 14.8Z" fill="#98f250"/>
<path d="M170.7 17.6C170.4 17.6 170.12 16.43 169.8 18.5C169.48 20.57 168.93 23.08 168.8 30C168.67 36.92 168.83 48.33 169 60C169.17 71.66 169.77 88.33 169.8 99.99C169.83 111.65 169.68 121.98 169.2 129.96C168.72 137.94 167.54 143.06 166.91 147.87C166.27 152.68 165.59 156.23 165.41 158.82C165.22 161.41 165.56 162.41 165.8 163.39C166.05 164.37 166.5 164.66 166.89 164.7C167.29 164.73 167.78 164.53 168.2 163.61C168.61 162.69 169.11 161.76 169.39 159.18C169.68 156.6 169.66 152.99 169.89 148.13C170.13 143.28 170.55 138.06 170.8 130.04C171.05 122.02 171.13 111.68 171.4 100.01C171.67 88.34 172.2 71.67 172.4 60C172.6 48.33 172.73 36.92 172.6 30C172.47 23.08 171.92 20.57 171.6 18.5C171.28 16.43 171 17.6 170.7 17.6Z" fill="#e6ee26"/>
<path d="M170.7 19.5C170.53 19.5 170.42 19.08 170.2 20C169.98 20.92 169.53 20.83 169.4 25C169.27 29.17 169.33 38.83 169.4 45C169.47 51.17 169.65 56.17 169.8 62C169.95 67.83 170.15 76.93 170.3 80C170.45 83.07 170.57 80.4 170.7 80.4C170.83 80.4 170.95 83.07 171.1 80C171.25 76.93 171.45 67.83 171.6 62C171.75 56.17 171.93 51.17 172 45C172.07 38.83 172.13 29.17 172 25C171.87 20.83 171.42 20.92 171.2 20C170.98 19.08 170.87 19.5 170.7 19.5Z" fill="#f7b51e"/>
<path d="M170.7 21.6C170.57 21.6 170.47 21.1 170.3 22C170.13 22.9 169.79 23.67 169.7 27C169.61 30.33 169.68 37.33 169.75 42C169.82 46.67 169.98 51.33 170.1 55C170.22 58.67 170.35 62.46 170.45 64C170.55 65.54 170.62 64.25 170.7 64.25C170.78 64.25 170.85 65.54 170.95 64C171.05 62.46 171.18 58.67 171.3 55C171.42 51.33 171.58 46.67 171.65 42C171.72 37.33 171.79 30.33 171.7 27C171.61 23.67 171.27 22.9 171.1 22C170.93 21.1 170.83 21.6 170.7 21.6Z" fill="#f47a18"/>
<path d="M170.7 23.7C170.6 23.7 170.52 23.28 170.4 24C170.27 24.72 170.02 25.33 169.95 28C169.88 30.67 169.93 36.58 170 40C170.07 43.42 170.28 47.03 170.4 48.5C170.52 49.97 170.6 48.8 170.7 48.8C170.8 48.8 170.88 49.97 171 48.5C171.12 47.03 171.32 43.42 171.4 40C171.47 36.58 171.52 30.67 171.45 28C171.38 25.33 171.12 24.72 171 24C170.88 23.28 170.8 23.7 170.7 23.7Z" fill="#e52e12"/>
<path d="M170.7 27.9C170.67 27.9 170.65 27.48 170.6 28C170.55 28.52 170.45 29.5 170.42 31C170.39 32.5 170.41 35.33 170.44 37C170.47 38.67 170.56 40.32 170.6 41C170.64 41.68 170.67 41.1 170.7 41.1C170.73 41.1 170.76 41.68 170.8 41C170.84 40.32 170.93 38.67 170.96 37C170.99 35.33 171.01 32.5 170.98 31C170.95 29.5 170.85 28.52 170.8 28C170.75 27.48 170.73 27.9 170.7 27.9Z" fill="#b01212"/>
<path d="M166.6 21.58C166.46 21.58 166.38 19.66 166.18 22C165.98 24.34 165.53 27.58 165.4 35.64C165.27 43.7 165.27 62.3 165.4 70.36C165.53 78.42 165.98 81.66 166.18 84C166.38 86.34 166.46 84.42 166.6 84.42C166.74 84.42 166.82 86.34 167.02 84C167.22 81.66 167.67 78.42 167.8 70.36C167.93 62.3 167.93 43.7 167.8 35.64C167.67 27.58 167.22 24.34 167.02 22C166.82 19.66 166.74 21.58 166.6 21.58Z" fill="#32bbf3"/>
<path d="M166.6 25.81C166.54 25.81 166.5 24.21 166.41 26C166.32 27.79 166.11 30.32 166.05 36.56C165.99 42.8 165.99 57.2 166.05 63.44C166.11 69.68 166.32 72.21 166.41 74C166.5 75.79 166.54 74.19 166.6 74.19C166.66 74.19 166.7 75.79 166.79 74C166.88 72.21 167.09 69.68 167.15 63.44C167.21 57.2 167.21 42.8 167.15 36.56C167.09 30.32 166.88 27.79 166.79 26C166.7 24.21 166.66 25.81 166.6 25.81Z" fill="#2b8aee"/>
<path d="M174.2 23.77C174.12 23.77 174.08 21.91 173.97 24C173.86 26.09 173.62 29.04 173.55 36.32C173.48 43.6 173.48 60.4 173.55 67.68C173.62 74.96 173.86 77.91 173.97 80C174.08 82.09 174.12 80.23 174.2 80.23C174.28 80.23 174.32 82.09 174.43 80C174.54 77.91 174.78 74.96 174.85 67.68C174.92 60.4 174.92 43.6 174.85 36.32C174.78 29.04 174.54 26.09 174.43 24C174.32 21.91 174.28 23.77 174.2 23.77Z" fill="#2b8aee"/>
<path d="M154.91 173.04C155.08 173.23 154.93 173.77 156.04 173.09C157.14 172.42 159.81 170.71 161.51 168.97C163.22 167.22 165.5 163.93 166.27 162.64C167.04 161.35 166.4 161.45 166.14 161.23C165.88 161.02 165.84 160.39 164.73 161.36C163.62 162.33 161.11 165.28 159.49 167.03C157.86 168.79 155.73 170.91 154.96 171.91C154.2 172.91 154.73 172.84 154.91 173.04Z" fill="#98f250"/>
<path d="M157.71 170.28C157.81 170.37 157.55 170.81 158.28 170.29C159.01 169.76 161.08 168.23 162.09 167.14C163.09 166.05 163.95 164.41 164.31 163.75C164.67 163.09 164.35 163.27 164.25 163.19C164.15 163.1 164.25 162.77 163.69 163.25C163.13 163.73 161.91 164.98 160.91 166.06C159.92 167.13 158.25 169.01 157.72 169.71C157.19 170.42 157.62 170.18 157.71 170.28Z" fill="#e6ee26"/>
<path d="M59 175.41C59 175.74 51.51 176.15 60.01 176.4C68.51 176.65 92.51 176.83 110 176.9C127.5 176.97 155.56 177.08 164.99 176.8C174.43 176.52 166.6 175.74 166.6 175.21C166.6 174.67 174.44 173.95 165.01 173.6C155.57 173.25 127.5 172.97 110 173.1C92.49 173.23 68.49 174.02 59.99 174.4C51.49 174.78 59 175.07 59 175.41Z" fill="#32bbf3"/>
<path d="M53.4 167.2C53.4 167.4 51.23 167.58 54 167.8C56.77 168.02 60.67 168.38 70 168.5C79.34 168.62 96.67 168.5 110 168.5C123.33 168.5 142.16 168.55 149.98 168.5C157.81 168.45 155.66 168.36 156.95 168.2C158.24 168.04 157.68 167.78 157.7 167.55C157.71 167.32 158.33 167.14 157.05 166.8C155.77 166.46 157.86 165.72 150.02 165.5C142.17 165.28 123.33 165.43 110 165.5C96.66 165.57 79.33 165.72 70 165.9C60.66 166.08 56.77 166.38 54 166.6C51.23 166.82 53.4 167 53.4 167.2Z" fill="#3eeee2"/>
<path d="M6.51 157.01C6.18 157.34 5.76 157.29 6.51 158.99C7.26 160.69 8.3 165.06 11.02 167.21C13.75 169.35 18.42 170.94 22.84 171.87C27.27 172.8 32.04 172.55 37.55 172.77C43.07 172.99 45.52 173.08 55.93 173.2C66.34 173.32 84.32 173.42 99.99 173.5C115.67 173.58 140.25 173.82 150 173.7C159.75 173.58 156.78 173.25 158.5 172.8C160.22 172.35 160.3 171.6 160.3 171C160.3 170.4 160.22 169.65 158.5 169.2C156.78 168.75 159.75 168.42 150 168.3C140.25 168.18 115.66 168.48 100.01 168.5C84.35 168.52 66.33 168.88 56.07 168.4C45.81 167.92 43.6 166.74 38.45 165.63C33.29 164.52 29.07 162.7 25.16 161.73C21.24 160.76 17.75 160.58 14.98 159.79C12.2 159.01 9.9 157.47 8.49 157.01C7.08 156.55 6.84 156.68 6.51 157.01Z" fill="#98f250"/>
<path d="M23.2 169.13C23.18 169.4 21.15 169.5 23.93 170C26.72 170.49 33.9 171.66 39.91 172.1C45.92 172.53 49.97 172.45 59.99 172.6C70 172.75 85 172.9 100.01 173C115.01 173.1 140.59 173.3 150 173.2C159.42 173.1 155.18 172.77 156.5 172.4C157.82 172.03 157.9 171.47 157.9 171C157.9 170.53 157.82 169.97 156.5 169.6C155.18 169.23 159.41 168.87 150 168.8C140.58 168.73 114.99 169 99.99 169.2C85 169.4 70 170.02 60.01 170C50.03 169.98 46.08 169.37 40.09 169.1C34.1 168.84 26.88 168.4 24.07 168.4C21.26 168.41 23.23 168.86 23.2 169.13Z" fill="#e6ee26"/>
<ellipse cx="20.2" cy="166.4" rx="3.7" ry="2" fill="#e6ee26"/>
<ellipse cx="20.6" cy="166.4" rx="1.4" ry="0.8" fill="#f7b51e"/>
<path d="M91.6 171C91.6 171.13 88.93 171.23 92 171.4C95.07 171.57 103.67 171.82 110 172C116.33 172.18 123.17 172.42 130 172.5C136.83 172.58 146.83 172.67 151 172.5C155.17 172.33 154.25 171.75 155 171.5C155.75 171.25 155.5 171.17 155.5 171C155.5 170.83 155.75 170.75 155 170.5C154.25 170.25 155.17 169.67 151 169.5C146.83 169.33 136.83 169.42 130 169.5C123.17 169.58 116.33 169.82 110 170C103.67 170.18 95.07 170.43 92 170.6C88.93 170.77 91.6 170.87 91.6 171Z" fill="#f7b51e"/>
<path d="M104.75 171C104.75 171.08 102.79 171.13 105 171.25C107.21 171.37 113.5 171.56 118 171.7C122.5 171.84 126.67 172.02 132 172.1C137.33 172.18 146.42 172.27 150 172.15C153.58 172.03 152.85 171.59 153.5 171.4C154.15 171.21 153.9 171.13 153.9 171C153.9 170.87 154.15 170.79 153.5 170.6C152.85 170.41 153.58 169.97 150 169.85C146.42 169.73 137.33 169.82 132 169.9C126.67 169.98 122.5 170.16 118 170.3C113.5 170.44 107.21 170.63 105 170.75C102.79 170.87 104.75 170.92 104.75 171Z" fill="#f47a18"/>
<path d="M120.7 171C120.7 171.1 118.78 171.17 121 171.3C123.22 171.43 129.5 171.71 134 171.8C138.5 171.89 145.08 171.93 148 171.85C150.92 171.77 150.87 171.44 151.5 171.3C152.13 171.16 151.8 171.1 151.8 171C151.8 170.9 152.13 170.84 151.5 170.7C150.87 170.56 150.92 170.23 148 170.15C145.08 170.07 138.5 170.11 134 170.2C129.5 170.29 123.22 170.57 121 170.7C118.78 170.83 120.7 170.9 120.7 171Z" fill="#e52e12"/>
<path d="M130.9 171C130.9 171.03 129.82 171.05 131 171.1C132.18 171.15 135.67 171.25 138 171.28C140.33 171.31 143.42 171.33 145 171.3C146.58 171.27 147.07 171.15 147.5 171.1C147.93 171.05 147.6 171.03 147.6 171C147.6 170.97 147.93 170.95 147.5 170.9C147.07 170.85 146.58 170.73 145 170.7C143.42 170.67 140.33 170.69 138 170.72C135.67 170.75 132.18 170.85 131 170.9C129.82 170.95 130.9 170.97 130.9 171Z" fill="#b01212"/>
<path d="M107.61 167C107.61 167.13 106.29 167.2 108 167.38C109.71 167.57 112.05 167.98 117.9 168.1C123.75 168.22 137.25 168.22 143.1 168.1C148.95 167.98 151.29 167.57 153 167.38C154.71 167.2 153.38 167.13 153.38 167C153.38 166.87 154.71 166.8 153 166.62C151.29 166.43 148.95 166.02 143.1 165.9C137.25 165.78 123.75 165.78 117.9 165.9C112.05 166.02 109.71 166.43 108 166.62C106.29 166.8 107.61 166.87 107.61 167Z" fill="#32bbf3"/>
<path d="M115.81 167C115.81 167.06 114.72 167.1 116 167.19C117.28 167.28 119.06 167.49 123.48 167.55C127.9 167.61 138.1 167.61 142.52 167.55C146.94 167.49 148.72 167.28 150 167.19C151.28 167.1 150.19 167.06 150.19 167C150.19 166.94 151.28 166.9 150 166.81C148.72 166.72 146.94 166.51 142.52 166.45C138.1 166.39 127.9 166.39 123.48 166.45C119.06 166.51 117.28 166.72 116 166.81C114.72 166.9 115.81 166.94 115.81 167Z" fill="#2b8aee"/>
</g></g>
<line x1="39.4" y1="252.8" x2="39.4" y2="431.7" stroke="#000" stroke-width="1.4"/>
<line x1="38.7" y1="431" x2="217.9" y2="431" stroke="#000" stroke-width="1.5"/>
<line x1="38.7" y1="253.45" x2="44.1" y2="253.45" stroke="#000" stroke-width="1.2"/>
<line x1="39.4" y1="253.8" x2="43.4" y2="253.8" stroke="#000" stroke-width="1.15"/>
<text x="34.9" y="259.3" font-size="10.6" text-anchor="end" fill="#000" stroke="#000" stroke-width="0.22">0.10</text>
<text x="39.6" y="443.9" font-size="10.6" text-anchor="middle" fill="#000" stroke="#000" stroke-width="0.22">-0.10</text>
<line x1="39.4" y1="297" x2="43.4" y2="297" stroke="#000" stroke-width="1.15"/>
<text x="34.9" y="302.2" font-size="10.6" text-anchor="end" fill="#000" stroke="#000" stroke-width="0.22">0.05</text>
<line x1="85.7" y1="431" x2="85.7" y2="426.8" stroke="#000" stroke-width="1.15"/>
<text x="84.7" y="443.9" font-size="10.6" text-anchor="middle" fill="#000" stroke="#000" stroke-width="0.22">-0.05</text>
<line x1="39.4" y1="341.3" x2="43.4" y2="341.3" stroke="#000" stroke-width="1.15"/>
<text x="34.9" y="345.1" font-size="10.6" text-anchor="end" fill="#000" stroke="#000" stroke-width="0.22">0.00</text>
<line x1="129.7" y1="431" x2="129.7" y2="426.8" stroke="#000" stroke-width="1.15"/>
<text x="129.3" y="443.9" font-size="10.6" text-anchor="middle" fill="#000" stroke="#000" stroke-width="0.22">0.00</text>
<line x1="39.4" y1="385.3" x2="43.4" y2="385.3" stroke="#000" stroke-width="1.15"/>
<text x="34.9" y="388" font-size="10.6" text-anchor="end" fill="#000" stroke="#000" stroke-width="0.22">-0.05</text>
<line x1="173.7" y1="431" x2="173.7" y2="426.8" stroke="#000" stroke-width="1.15"/>
<text x="174.7" y="443.9" font-size="10.6" text-anchor="middle" fill="#000" stroke="#000" stroke-width="0.22">0.05</text>
<line x1="39.4" y1="429.6" x2="43.4" y2="429.6" stroke="#000" stroke-width="1.15"/>
<text x="34.9" y="430.9" font-size="10.6" text-anchor="end" fill="#000" stroke="#000" stroke-width="0.22">-0.10</text>
<line x1="217.35" y1="431" x2="217.35" y2="426.8" stroke="#000" stroke-width="1.15"/>
<text x="215.7" y="443.9" font-size="10.6" text-anchor="middle" fill="#000" stroke="#000" stroke-width="0.22">0.10</text>
<text x="127.7" y="455.9" font-size="10.7" text-anchor="middle" fill="#000" stroke="#000" stroke-width="0.22">X (m)</text>
<text transform="translate(11 338.8) rotate(-90)" font-size="10.7" text-anchor="middle" fill="#000" stroke="#000" stroke-width="0.22">Y (m)</text>
<text x="42.8" y="267.8" font-size="13.2" fill="#000">(b)</text>
<rect x="236.2" y="282" width="11.6" height="11.35" fill="#b01212"/>
<rect x="236.2" y="293.2" width="11.6" height="11.35" fill="#e52e12"/>
<rect x="236.2" y="304.4" width="11.6" height="11.35" fill="#f47a18"/>
<rect x="236.2" y="315.6" width="11.6" height="11.35" fill="#f7b51e"/>
<rect x="236.2" y="326.8" width="11.6" height="11.35" fill="#e6ee26"/>
<rect x="236.2" y="338" width="11.6" height="11.35" fill="#98f250"/>
<rect x="236.2" y="349.2" width="11.6" height="11.35" fill="#66f8a0"/>
<rect x="236.2" y="360.4" width="11.6" height="11.35" fill="#3eeee2"/>
<rect x="236.2" y="371.6" width="11.6" height="11.35" fill="#32bbf3"/>
<rect x="236.2" y="382.8" width="11.6" height="11.35" fill="#2b8aee"/>
<rect x="236.2" y="394" width="11.6" height="11.35" fill="#2a52e2"/>
<rect x="236.2" y="405.2" width="11.6" height="11.35" fill="#2129b2"/>
<rect x="236.2" y="416.4" width="11.6" height="11.35" fill="#191a72"/>
<rect x="236.2" y="282" width="11.6" height="145.6" fill="none" stroke="#3a3a40" stroke-opacity=".85" stroke-width=".9"/>
<text x="254" y="285.1" font-size="10.55" fill="#000" stroke="#000" stroke-width=".12">1.19</text>
<text x="254" y="297.36" font-size="10.55" fill="#000" stroke="#000" stroke-width=".12">1.16</text>
<text x="254" y="309.32" font-size="10.55" fill="#000" stroke="#000" stroke-width=".12">1.13</text>
<text x="254" y="319.18" font-size="10.55" fill="#000" stroke="#000" stroke-width=".12">1.10</text>
<text x="254" y="330.54" font-size="10.55" fill="#000" stroke="#000" stroke-width=".12">1.07</text>
<text x="254" y="341.9" font-size="10.55" fill="#000" stroke="#000" stroke-width=".12">1.04</text>
<text x="254" y="353.26" font-size="10.55" fill="#000" stroke="#000" stroke-width=".12">1.01</text>
<text x="254" y="364.62" font-size="10.55" fill="#000" stroke="#000" stroke-width=".12">0.98</text>
<text x="254" y="375.98" font-size="10.55" fill="#000" stroke="#000" stroke-width=".12">0.95</text>
<text x="254" y="387.34" font-size="10.55" fill="#000" stroke="#000" stroke-width=".12">0.92</text>
<text x="254" y="398.7" font-size="10.55" fill="#000" stroke="#000" stroke-width=".12">0.89</text>
<text x="254" y="410.06" font-size="10.55" fill="#000" stroke="#000" stroke-width=".12">0.86</text>
<text x="254" y="421.42" font-size="10.55" fill="#000" stroke="#000" stroke-width=".12">0.83</text>
<text x="254" y="432.78" font-size="10.55" fill="#000" stroke="#000" stroke-width=".12">0.80</text>
<text x="218.4" y="260.8" font-size="10.35" fill="#000" stroke="#000" stroke-width=".1">Segregation</text>
<text x="229.8" y="273.2" font-size="10.35" fill="#000" stroke="#000" stroke-width=".1">degree</text>
<clipPath id="cpe"><rect x="-0.6" y="-0.6" width="178.4" height="178.2"/></clipPath>
<g transform="translate(315.3 257.6)" clip-path="url(#cpe)"><g filter="url(#soft)">
<rect x="-4.6" y="-4.6" width="186.4" height="186.2" fill="#32bbf3"/>
<rect x="3.5" y="3.6" width="169.9" height="169.3" rx="1.5" fill="#3eeee2"/>
<rect x="5" y="5.2" width="166.8" height="166.4" rx="3" fill="#66f8a0"/>
<path d="M0.51 34.8C0.78 34.82 0.45 37.47 1.4 34.09C2.34 30.71 5.02 18.82 6.16 14.51C7.3 10.2 6.88 9.67 8.25 8.25C9.62 6.83 10.07 6.89 14.37 5.98C18.68 5.07 30.6 3.54 34.07 2.8C37.54 2.06 35.22 1.93 35.2 1.53C35.17 1.13 37.52 0.72 33.93 0.4C30.33 0.08 18.99 -0.6 13.63 -0.38C8.26 -0.15 4.11 -0.56 1.75 1.75C-0.62 4.06 -0.24 8.13 -0.56 13.49C-0.89 18.85 -0.37 30.36 -0.2 33.91C-0.02 37.46 0.25 34.77 0.51 34.8Z" fill="#3eeee2"/>
<path d="M8.87 20.14C9.92 20.35 11.49 18.91 12.64 17.63C13.79 16.35 15 13.96 15.76 12.45C16.53 10.94 16.85 9.76 17.23 8.56C17.62 7.36 18.47 5.95 18.06 5.27C17.65 4.58 16.74 4.23 14.77 4.44C12.8 4.66 7.64 4.56 6.24 6.55C4.84 8.54 5.92 14.11 6.36 16.37C6.8 18.64 7.83 19.93 8.87 20.14Z" fill="#3eeee2"/>
<path d="M148.43 5.2C148.33 5.72 147.59 5.87 149.7 7.07C151.81 8.27 158.36 10.85 161.08 12.4C163.81 13.95 164.45 14.88 166.05 16.39C167.65 17.9 169.61 20.48 170.68 21.47C171.75 22.46 172.03 22.48 172.47 22.32C172.91 22.16 173.24 22.31 173.32 20.53C173.4 18.74 174.35 14.43 172.95 11.61C171.55 8.79 168.69 4.88 164.92 3.6C161.14 2.32 153.05 3.66 150.3 3.93C147.55 4.2 148.53 4.67 148.43 5.2Z" fill="#3eeee2"/>
<path d="M0.73 127.2C0.47 127.22 0.22 124.2 0 128.07C-0.22 131.93 -0.67 143.26 -0.57 150.41C-0.48 157.57 -2.07 166.45 0.58 171C3.22 175.56 8.08 176.77 15.31 177.73C22.54 178.7 38.93 177.18 43.94 176.8C48.95 176.42 45.38 175.93 45.4 175.46C45.42 174.99 48.85 174.8 44.06 174C39.27 173.2 22.13 172.17 16.69 170.67C11.25 169.17 13.24 168.51 11.42 165C9.6 161.48 7.41 155.76 5.77 149.59C4.14 143.41 2.44 131.67 1.6 127.93C0.76 124.2 1 127.18 0.73 127.2Z" fill="#3eeee2"/>
<path d="M148.51 173.66C148.56 174.16 147.41 174.8 150.16 174.99C152.91 175.19 161.02 176.1 165.01 174.83C169 173.55 172.46 171.45 174.12 167.35C175.78 163.25 175.05 153.37 174.98 150.23C174.92 147.09 174.23 148.6 173.73 148.52C173.24 148.44 172.99 147.08 172.02 149.77C171.04 152.46 169.38 161.42 167.88 164.65C166.37 167.89 166 167.95 162.99 169.17C159.98 170.4 152.25 171.26 149.84 172.01C147.43 172.76 148.46 173.16 148.51 173.66Z" fill="#3eeee2"/>
<path d="M41.4 12.99C41.4 13.19 38.89 13.32 41.99 13.6C45.09 13.88 50.33 14.38 59.99 14.7C69.66 15.02 87.49 15.35 99.99 15.5C112.5 15.65 126.34 15.85 135 15.6C143.67 15.35 149.04 14.4 152.01 14C154.98 13.6 152.8 13.46 152.8 13.19C152.8 12.92 154.96 12.73 151.99 12.4C149.02 12.07 143.66 11.42 135 11.2C126.33 10.98 112.5 11.02 100.01 11.1C87.51 11.18 69.67 11.48 60.01 11.7C50.34 11.92 45.11 12.18 42.01 12.4C38.91 12.62 41.4 12.79 41.4 12.99Z" fill="#3eeee2"/>
<path d="M13 8.89C13.03 9.55 13.24 10.15 15.09 10.8C16.93 11.45 18.25 12.52 24.08 12.8C29.9 13.08 37.37 12.72 50.02 12.5C62.68 12.28 85.01 11.65 100 11.5C115 11.35 129.65 11.72 139.97 11.6C150.3 11.48 157.9 11.31 161.96 10.8C166.01 10.29 164.29 9.31 164.3 8.54C164.31 7.78 166.09 6.86 162.04 6.2C158 5.54 150.37 4.88 140.03 4.6C129.69 4.32 115 4.62 100 4.5C84.99 4.38 62.66 3.98 49.98 3.9C37.3 3.82 29.77 3.52 23.92 4C18.08 4.48 16.73 5.99 14.91 6.8C13.09 7.62 12.97 8.22 13 8.89Z" fill="#98f250"/>
<path d="M117.4 15.74C117.38 15.94 115.05 15.77 117.94 16.4C120.82 17.02 129.5 18.3 134.7 19.48C139.89 20.65 145.16 21.91 149.08 23.43C153.01 24.96 155.81 26.27 158.24 28.63C160.66 30.98 162.44 35.97 163.63 37.56C164.82 39.15 164.97 38.36 165.36 38.17C165.75 37.98 166.57 38.57 165.97 36.44C165.37 34.3 164.27 28.35 161.76 25.37C159.25 22.39 155.32 20.17 150.92 18.57C146.51 16.96 140.78 16.29 135.3 15.72C129.83 15.16 121.05 15.2 118.06 15.2C115.08 15.21 117.42 15.54 117.4 15.74Z" fill="#98f250"/>
<path d="M137.71 18.14C137.69 18.23 136.1 17.94 137.94 18.49C139.77 19.05 145.57 20.36 148.71 21.45C151.85 22.55 155.32 24.49 156.78 25.05C158.23 25.61 157.37 24.97 157.45 24.82C157.52 24.67 158.58 25 157.22 24.15C155.86 23.31 152.48 20.79 149.29 19.75C146.09 18.71 139.99 18.18 138.06 17.91C136.13 17.64 137.73 18.04 137.71 18.14Z" fill="#e6ee26"/>
<path d="M149.27 13.18C149.16 13.42 148.38 13.34 149.68 14.23C150.98 15.13 154.84 17.05 157.07 18.54C159.29 20.03 161.69 22.42 163.04 23.15C164.39 23.89 164.83 23.34 165.15 22.96C165.47 22.58 166 22.1 164.96 20.85C163.92 19.6 161.37 16.81 158.93 15.46C156.49 14.11 151.93 13.15 150.32 12.77C148.71 12.39 149.37 12.94 149.27 13.18Z" fill="#98f250"/>
<path d="M15.6 11L23.2 11L26.4 11.6L24.6 23L22.8 17L20.2 34L18.2 22Z" fill="#98f250"/>
<path d="M18.4 11.6L20.8 11.6L19.6 22Z" fill="#e6ee26"/>
<path d="M16.3 8.66C16.32 9.05 16.26 9.34 17.56 9.8C18.85 10.26 18.65 11.17 24.06 11.4C29.47 11.63 37.36 11.35 50.01 11.2C62.67 11.05 85 10.6 100 10.5C114.99 10.4 129.9 10.68 139.98 10.6C150.06 10.52 156.8 10.34 160.47 10C164.14 9.65 161.99 9.03 162 8.53C162.01 8.03 164.19 7.49 160.53 7C156.87 6.51 150.11 5.85 140.02 5.6C129.93 5.35 115.01 5.63 100 5.5C85 5.37 62.66 4.85 49.99 4.8C37.31 4.75 29.37 4.77 23.94 5.2C18.52 5.63 18.72 6.83 17.44 7.4C16.17 7.98 16.28 8.26 16.3 8.66Z" fill="#e6ee26"/>
<path d="M18.5 8C18.5 8.17 17.75 8.28 19 8.5C20.25 8.72 23.83 9.1 26 9.3C28.17 9.5 28 9.65 32 9.7C36 9.75 45.33 9.77 50 9.6C54.67 9.43 57.33 8.92 60 8.7C62.67 8.48 64.95 8.42 66 8.3C67.05 8.18 66.3 8.1 66.3 8C66.3 7.9 67.05 7.82 66 7.7C64.95 7.58 62.67 7.52 60 7.3C57.33 7.08 54.67 6.57 50 6.4C45.33 6.23 36 6.25 32 6.3C28 6.35 28.17 6.5 26 6.7C23.83 6.9 20.25 7.28 19 7.5C17.75 7.72 18.5 7.83 18.5 8Z" fill="#f7b51e"/>
<path d="M103.78 8.9C103.78 8.97 101.95 9.01 104 9.12C106.05 9.22 108.95 9.45 116.1 9.52C123.25 9.59 139.75 9.59 146.9 9.52C154.05 9.45 156.95 9.22 159 9.12C161.05 9.01 159.22 8.97 159.22 8.9C159.22 8.83 161.05 8.79 159 8.68C156.95 8.58 154.05 8.35 146.9 8.28C139.75 8.21 123.25 8.21 116.1 8.28C108.95 8.35 106.05 8.58 104 8.68C101.95 8.79 103.78 8.83 103.78 8.9Z" fill="#f7b51e"/>
<path d="M28.8 7.9C28.8 7.97 28.13 8 29 8.1C29.87 8.2 31.17 8.44 34 8.5C36.83 8.56 43 8.52 46 8.45C49 8.38 50.97 8.19 52 8.1C53.03 8.01 52.2 7.97 52.2 7.9C52.2 7.83 53.03 7.79 52 7.7C50.97 7.61 49 7.42 46 7.35C43 7.28 36.83 7.24 34 7.3C31.17 7.36 29.87 7.6 29 7.7C28.13 7.8 28.8 7.83 28.8 7.9Z" fill="#f47a18"/>
<ellipse cx="22.8" cy="9.6" rx="1.5" ry="1" fill="#f47a18"/>
<path d="M87.6 13.4C87.6 13.53 85.73 13.61 88 13.8C90.27 13.99 93.4 14.43 101.2 14.55C109 14.67 127 14.67 134.8 14.55C142.6 14.43 145.73 13.99 148 13.8C150.27 13.61 148.4 13.53 148.4 13.4C148.4 13.27 150.27 13.19 148 13C145.73 12.81 142.6 12.37 134.8 12.25C127 12.13 109 12.13 101.2 12.25C93.4 12.37 90.27 12.81 88 13C85.73 13.19 87.6 13.27 87.6 13.4Z" fill="#32bbf3"/>
<path d="M101.74 13.4C101.74 13.49 100.93 13.54 102 13.66C103.07 13.79 104.52 14.07 108.16 14.15C111.8 14.23 120.2 14.23 123.84 14.15C127.48 14.07 128.93 13.79 130 13.66C131.07 13.54 130.26 13.49 130.26 13.4C130.26 13.31 131.07 13.26 130 13.14C128.93 13.01 127.48 12.73 123.84 12.65C120.2 12.57 111.8 12.57 108.16 12.65C104.52 12.73 103.07 13.01 102 13.14C100.93 13.26 101.74 13.31 101.74 13.4Z" fill="#2b8aee"/>
<path d="M107.86 13.4C107.86 13.45 107.46 13.47 108 13.54C108.54 13.61 109.26 13.76 111.08 13.8C112.9 13.84 117.1 13.84 118.92 13.8C120.74 13.76 121.46 13.61 122 13.54C122.54 13.47 122.14 13.45 122.14 13.4C122.14 13.35 122.54 13.33 122 13.26C121.46 13.19 120.74 13.04 118.92 13C117.1 12.96 112.9 12.96 111.08 13C109.26 13.04 108.54 13.19 108 13.26C107.46 13.33 107.86 13.35 107.86 13.4Z" fill="#2a52e2"/>
<path d="M13 23.2C12.74 23.2 12.55 21.2 12.2 24C11.85 26.79 11.18 33.98 10.9 39.98C10.62 45.98 10.45 47.98 10.5 59.98C10.55 71.98 11.1 98.99 11.2 111.99C11.3 124.99 11 133.54 11.1 137.99C11.2 142.44 11.56 138.7 11.79 138.7C12.02 138.7 12.26 142.46 12.5 138.01C12.74 133.56 12.83 125.01 13.2 112.01C13.57 99.01 14.42 72.02 14.7 60.02C14.98 48.02 15.05 46.02 14.9 40.02C14.75 34.02 14.12 26.81 13.8 24C13.48 21.2 13.27 23.2 13 23.2Z" fill="#3eeee2"/>
<path d="M9.21 14.6C8.75 14.6 8.37 13.78 7.8 15.99C7.23 18.2 6.27 23.41 5.8 27.88C5.34 32.35 5.24 36.63 5.01 42.8C4.77 48.97 4.54 57.35 4.4 64.88C4.27 72.41 4.45 76.79 4.2 87.98C3.95 99.17 3.16 122.78 2.9 132.02C2.64 141.26 2.41 139.88 2.62 143.4C2.83 146.92 3.17 150.02 4.17 153.15C5.17 156.28 6.56 159.65 8.63 162.17C10.7 164.7 13.43 166.83 16.61 168.3C19.78 169.77 20.46 170.29 27.68 170.99C34.89 171.68 46.18 172.13 59.9 172.5C73.61 172.87 94.95 173.07 109.97 173.2C124.98 173.33 141.82 173.55 149.99 173.3C158.17 173.05 157.2 172.27 159 171.7C160.8 171.13 160.8 170.5 160.8 169.9C160.8 169.3 160.8 168.67 159 168.1C157.2 167.53 158.17 166.78 150.01 166.5C141.85 166.22 125.02 166.57 110.03 166.4C95.05 166.23 73.72 165.93 60.1 165.5C46.48 165.07 35.11 164.38 28.32 163.81C21.54 163.25 21.72 163.1 19.39 162.1C17.07 161.1 15.63 159.7 14.37 157.83C13.11 155.95 12.53 153.39 11.83 150.85C11.13 148.31 10.67 145.75 10.18 142.6C9.69 139.46 9.3 141.07 8.9 131.98C8.5 122.88 7.75 99.17 7.8 88.02C7.85 76.88 8.6 72.59 9.2 65.12C9.8 57.65 10.86 49.36 11.39 43.2C11.93 37.03 12.53 32.65 12.4 28.12C12.27 23.59 11.13 18.27 10.6 16.01C10.07 13.76 9.68 14.6 9.21 14.6Z" fill="#98f250"/>
<path d="M11.61 146.69C11.5 146.82 10.56 146.22 11.69 147.39C12.82 148.57 15.35 152.24 18.37 153.75C21.4 155.27 27.83 156.08 29.85 156.48C31.87 156.88 30.43 156.31 30.48 156.15C30.53 155.99 31.96 156.34 30.15 155.52C28.34 154.71 22.6 152.73 19.63 151.25C16.65 149.76 13.65 147.37 12.31 146.61C10.97 145.85 11.71 146.56 11.61 146.69Z" fill="#98f250"/>
<path d="M12.55 154.79C12.48 154.94 11.43 154.59 12.79 155.45C14.14 156.31 17.49 159.1 20.68 159.96C23.88 160.81 30 160.55 31.95 160.6C33.9 160.65 32.38 160.38 32.4 160.25C32.41 160.12 33.9 160.24 32.05 159.8C30.2 159.37 24.46 158.52 21.32 157.64C18.18 156.77 14.68 155.02 13.21 154.55C11.75 154.07 12.62 154.63 12.55 154.79Z" fill="#98f250"/>
<path d="M19.2 163.98C19.19 164.25 18.19 164.36 19.98 164.8C21.78 165.24 21.65 166.27 29.99 166.6C38.33 166.93 57.5 166.87 70.01 166.8C82.51 166.73 93.68 166.43 105.01 166.2C116.35 165.97 131.17 165.67 138 165.4C144.83 165.13 144.55 164.83 145.99 164.6C147.42 164.37 146.59 164.21 146.6 164.01C146.6 163.82 147.45 163.7 146.01 163.4C144.58 163.1 144.84 162.47 138 162.2C131.16 161.93 116.32 161.9 104.99 161.8C93.65 161.7 82.49 161.6 69.99 161.6C57.5 161.6 38.34 161.53 30.01 161.8C21.68 162.07 21.82 162.84 20.02 163.2C18.21 163.56 19.21 163.72 19.2 163.98Z" fill="#3eeee2"/>
<path d="M9.21 15.2C8.94 15.2 8.78 13.87 8.4 15.99C8.02 18.11 7.3 23.44 6.9 27.92C6.5 32.4 6.27 36.7 6 42.86C5.74 49.03 5.45 57.41 5.3 64.93C5.15 72.45 5.28 76.81 5.1 87.99C4.92 99.17 4.36 122.8 4.2 132.01C4.04 141.22 3.88 139.79 4.11 143.24C4.35 146.69 4.68 149.69 5.61 152.72C6.53 155.74 7.76 158.96 9.67 161.39C11.58 163.82 14.04 165.87 17.06 167.3C20.08 168.73 20.62 169.27 27.77 169.99C34.91 170.71 46.22 171.18 59.92 171.6C73.63 172.02 94.96 172.33 109.97 172.5C124.98 172.67 141.82 172.83 149.99 172.6C158.17 172.37 157.3 171.55 159 171.1C160.7 170.65 160.2 170.3 160.2 169.9C160.2 169.5 160.7 169.15 159 168.7C157.3 168.25 158.17 167.47 150.01 167.2C141.84 166.93 125.02 167.23 110.03 167.1C95.04 166.97 73.71 166.78 60.08 166.4C46.44 166.02 35.09 165.36 28.23 164.81C21.38 164.26 21.42 164.13 18.94 163.1C16.46 162.07 14.76 160.58 13.33 158.61C11.91 156.64 11.17 153.92 10.39 151.28C9.62 148.64 9.15 145.98 8.69 142.76C8.22 139.54 7.9 141.11 7.6 131.99C7.3 122.86 6.78 99.16 6.9 88.01C7.02 76.86 7.72 72.55 8.3 65.07C8.88 57.59 9.9 49.3 10.4 43.14C10.9 36.97 11.36 32.6 11.3 28.08C11.23 23.56 10.35 18.15 10 16.01C9.65 13.86 9.47 15.2 9.21 15.2Z" fill="#e6ee26"/>
<path d="M9.21 18.2C9.11 18.2 9.05 17.53 8.9 18.49C8.75 19.46 8.48 21.06 8.3 23.97C8.13 26.88 8.02 31.29 7.85 35.96C7.68 40.63 7.35 49.26 7.3 51.98C7.26 54.7 7.48 52.29 7.58 52.3C7.68 52.31 7.6 54.73 7.9 52.02C8.19 49.31 9.02 40.71 9.35 36.04C9.68 31.37 9.87 26.95 9.9 24.03C9.92 21.1 9.62 19.48 9.5 18.51C9.38 17.53 9.31 18.2 9.21 18.2Z" fill="#f7b51e"/>
<path d="M6 107.7C5.9 107.7 5.9 104.95 5.7 108C5.5 111.05 4.95 120.32 4.8 126.01C4.65 131.7 4.5 137.91 4.8 142.11C5.11 146.32 6.02 148.98 6.63 151.25C7.23 153.52 7.97 154.9 8.44 155.74C8.9 156.57 9.18 156.34 9.44 156.26C9.69 156.18 10.04 156.18 9.96 155.26C9.89 154.34 9.33 152.98 8.97 150.75C8.61 148.52 8.12 146.01 7.8 141.89C7.47 137.76 7.25 131.64 7 125.99C6.75 120.34 6.47 111.05 6.3 108C6.13 104.95 6.1 107.7 6 107.7Z" fill="#f7b51e"/>
<path d="M5.9 123.8C5.83 123.8 5.82 122.3 5.7 124C5.58 125.71 5.22 130.68 5.2 134.02C5.18 137.36 5.35 141.55 5.6 144.05C5.85 146.56 6.46 148.16 6.7 149.04C6.94 149.91 6.94 149.31 7.04 149.3C7.14 149.29 7.27 149.86 7.3 148.96C7.32 148.07 7.28 146.44 7.2 143.95C7.12 141.45 6.98 137.3 6.8 133.98C6.62 130.66 6.25 125.69 6.1 124C5.95 122.3 5.96 123.8 5.9 123.8Z" fill="#f47a18"/>
<ellipse cx="9.3" cy="155.2" rx="1.1" ry="1.3" fill="#f47a18"/>
<path d="M14.22 165.21C14.18 165.3 13.64 165.17 14.41 165.58C15.17 166 16.74 167.18 18.82 167.68C20.91 168.18 24.57 168.49 26.93 168.6C29.29 168.7 31.93 168.4 32.99 168.3C34.05 168.2 33.3 168.11 33.3 168.01C33.3 167.91 34.05 167.87 33.01 167.7C31.97 167.53 29.37 167.3 27.07 167C24.76 166.71 21.26 166.25 19.18 165.92C17.1 165.59 15.42 165.13 14.59 165.02C13.77 164.9 14.25 165.11 14.22 165.21Z" fill="#f7b51e"/>
<path d="M12.8 29.56C12.65 29.56 12.57 28.24 12.36 30C12.15 31.76 11.69 34.14 11.55 40.12C11.41 46.1 11.41 59.9 11.55 65.88C11.69 71.86 12.15 74.24 12.36 76C12.57 77.76 12.65 76.44 12.8 76.44C12.95 76.44 13.03 77.76 13.24 76C13.45 74.24 13.91 71.86 14.05 65.88C14.19 59.9 14.19 46.1 14.05 40.12C13.91 34.14 13.45 31.76 13.24 30C13.03 28.24 12.95 29.56 12.8 29.56Z" fill="#32bbf3"/>
<path d="M12.15 59.2C11.89 59.22 11.76 57.56 11.4 60.05C11.04 62.53 10.44 69.47 10 74.13C9.57 78.79 8.77 83.54 8.8 88C8.83 92.46 9.77 96.87 10.2 100.86C10.64 104.85 11.08 109.95 11.4 111.94C11.73 113.93 11.88 112.78 12.14 112.8C12.41 112.82 12.39 114 13 112.06C13.61 110.12 14.96 105.15 15.8 101.14C16.63 97.13 17.97 92.54 18 88C18.03 83.46 16.83 78.55 16 73.87C15.16 69.2 13.64 62.4 13 59.95C12.36 57.51 12.42 59.19 12.15 59.2Z" fill="#3eeee2"/>
<path d="M12.37 65.5C12.21 65.51 12.11 64.1 11.9 66.03C11.69 67.96 11.38 73.41 11.1 77.07C10.82 80.73 10.18 84.51 10.2 87.99C10.22 91.46 10.92 94.93 11.2 97.92C11.49 100.92 11.71 104.54 11.9 105.97C12.1 107.4 12.2 106.49 12.37 106.5C12.54 106.51 12.53 107.44 12.9 106.03C13.27 104.63 14.05 101.08 14.6 98.08C15.15 95.07 16.15 91.54 16.2 88.01C16.25 84.49 15.45 80.6 14.9 76.93C14.35 73.26 13.32 67.88 12.9 65.97C12.48 64.07 12.54 65.49 12.37 65.5Z" fill="#32bbf3"/>
<path d="M12.6 33.7C12.5 33.7 12.44 32.56 12.3 34C12.16 35.44 11.84 37.42 11.75 42.36C11.66 47.3 11.66 58.7 11.75 63.64C11.84 68.58 12.16 70.56 12.3 72C12.44 73.44 12.5 72.3 12.6 72.3C12.7 72.3 12.76 73.44 12.9 72C13.04 70.56 13.36 68.58 13.45 63.64C13.54 58.7 13.54 47.3 13.45 42.36C13.36 37.42 13.04 35.44 12.9 34C12.76 32.56 12.7 33.7 12.6 33.7Z" fill="#2b8aee"/>
<path d="M12.6 39.85C12.55 39.85 12.52 39.1 12.45 40C12.38 40.9 12.23 42.16 12.18 45.28C12.13 48.4 12.13 55.6 12.18 58.72C12.23 61.84 12.38 63.1 12.45 64C12.52 64.9 12.55 64.15 12.6 64.15C12.65 64.15 12.68 64.9 12.75 64C12.82 63.1 12.97 61.84 13.02 58.72C13.07 55.6 13.07 48.4 13.02 45.28C12.97 42.16 12.82 40.9 12.75 40C12.68 39.1 12.65 39.85 12.6 39.85Z" fill="#2a52e2"/>
<path d="M164.21 35.3C163.97 35.3 163.8 31.88 163.5 35.99C163.2 40.11 162.68 49.32 162.4 59.99C162.12 70.66 161.87 88.33 161.8 99.99C161.73 111.66 161.82 121.33 162 129.99C162.18 138.66 162.63 148.21 162.9 151.99C163.17 155.78 163.36 152.7 163.59 152.7C163.83 152.7 163.97 155.79 164.3 152.01C164.63 148.22 165.35 138.67 165.6 130.01C165.85 121.34 165.8 111.67 165.8 100.01C165.8 88.34 165.75 70.68 165.6 60.01C165.45 49.34 165.13 40.12 164.9 36.01C164.67 31.89 164.44 35.3 164.21 35.3Z" fill="#3eeee2"/>
<path d="M168.9 14.4C168.37 14.4 168 14.06 167.3 16C166.6 17.94 165.02 19.51 164.7 26.01C164.38 32.51 165 44.36 165.4 55.02C165.8 65.69 166.83 77.51 167.1 90.01C167.37 102.5 167.02 117.49 167 129.99C166.98 142.48 166.7 158.84 167 164.98C167.3 171.12 168.18 166.79 168.78 166.8C169.38 166.81 170.16 171.15 170.6 165.02C171.04 158.89 171.25 142.52 171.4 130.01C171.55 117.51 171.3 102.5 171.5 89.99C171.7 77.49 172.33 65.64 172.6 54.98C172.87 44.31 173.45 32.49 173.1 25.99C172.75 19.49 171.2 17.93 170.5 16C169.8 14.07 169.43 14.4 168.9 14.4Z" fill="#98f250"/>
<path d="M160.87 115.2C160.6 115.18 160.78 112.18 160 115.93C159.23 119.69 157.61 131.14 156.21 137.74C154.82 144.33 152.49 151.09 151.62 155.5C150.75 159.92 150.52 161.96 151 164.22C151.49 166.49 153.38 167.89 154.56 169.09C155.74 170.29 157.11 171.64 158.09 171.44C159.07 171.25 159.76 169.19 160.44 167.91C161.13 166.63 161.87 165.68 162.2 163.78C162.52 161.87 162.45 160.75 162.38 156.5C162.31 152.24 161.92 145 161.79 138.26C161.66 131.53 161.75 119.91 161.6 116.07C161.44 112.22 161.13 115.22 160.87 115.2Z" fill="#98f250"/>
<path d="M160.23 129.6C160.1 129.59 160.17 127.25 159.8 129.97C159.43 132.69 158.69 141.27 158.01 145.89C157.33 150.52 156.29 154.59 155.72 157.74C155.16 160.88 154.68 163.4 154.63 164.78C154.57 166.15 155.05 165.9 155.38 165.97C155.7 166.05 156.02 166.51 156.57 165.22C157.12 163.94 158.11 161.45 158.68 158.26C159.25 155.08 159.67 150.81 159.99 146.11C160.31 141.4 160.56 132.78 160.6 130.03C160.64 127.28 160.36 129.61 160.23 129.6Z" fill="#e6ee26"/>
<path d="M168.9 17C168.57 17 168.45 16.17 167.9 18C167.35 19.83 165.9 22.34 165.6 28.01C165.3 33.68 165.75 45.7 166.1 52.03C166.45 58.36 167.42 56.35 167.7 66.01C167.98 75.67 167.87 96 167.8 109.99C167.73 123.99 167.37 140.81 167.3 149.98C167.23 159.14 167.22 162.3 167.4 164.97C167.58 167.64 168.04 165.99 168.37 166C168.71 166.01 169.08 167.69 169.4 165.03C169.72 162.36 170.07 159.19 170.3 150.02C170.53 140.85 170.7 124.01 170.8 110.01C170.9 96 170.72 75.66 170.9 65.99C171.08 56.32 171.68 58.3 171.9 51.97C172.12 45.64 172.53 33.65 172.2 27.99C171.87 22.33 170.45 19.83 169.9 18C169.35 16.17 169.23 17 168.9 17Z" fill="#e6ee26"/>
<path d="M168.9 19C168.7 19 168.65 18.1 168.3 19.6C167.95 21.1 167.02 23.6 166.8 28.01C166.58 32.41 166.68 41.02 167 46.02C167.32 51.02 168.33 55.93 168.7 58.01C169.07 60.09 169.04 58.5 169.21 58.5C169.37 58.5 169.4 60.08 169.7 57.99C170 55.91 170.78 50.98 171 45.98C171.22 40.98 171.25 32.39 171 27.99C170.75 23.6 169.85 21.1 169.5 19.6C169.15 18.1 169.1 19 168.9 19Z" fill="#f7b51e"/>
<ellipse cx="168.1" cy="23.6" rx="1.1" ry="1.6" fill="#f47a18"/>
<path d="M168.1 127.72C168.01 127.72 167.95 126.63 167.82 128C167.69 129.37 167.39 131.24 167.3 135.92C167.21 140.6 167.21 151.4 167.3 156.08C167.39 160.76 167.69 162.63 167.82 164C167.95 165.37 168.01 164.28 168.1 164.28C168.19 164.28 168.25 165.37 168.38 164C168.51 162.63 168.81 160.76 168.9 156.08C168.99 151.4 168.99 140.6 168.9 135.92C168.81 131.24 168.51 129.37 168.38 128C168.25 126.63 168.19 127.72 168.1 127.72Z" fill="#f7b51e"/>
<path d="M168 135.86C167.95 135.86 167.93 135.1 167.86 136C167.79 136.9 167.64 138.16 167.6 141.28C167.56 144.4 167.56 151.6 167.6 154.72C167.64 157.84 167.79 159.1 167.86 160C167.93 160.9 167.95 160.14 168 160.14C168.05 160.14 168.07 160.9 168.14 160C168.21 159.1 168.36 157.84 168.4 154.72C168.44 151.6 168.44 144.4 168.4 141.28C168.36 138.16 168.21 136.9 168.14 136C168.07 135.1 168.05 135.86 168 135.86Z" fill="#f47a18"/>
<path d="M163.8 91.65C163.68 91.65 163.62 90.47 163.45 92C163.28 93.53 162.91 95.6 162.8 100.8C162.69 106 162.69 118 162.8 123.2C162.91 128.4 163.28 130.47 163.45 132C163.62 133.53 163.68 132.35 163.8 132.35C163.92 132.35 163.98 133.53 164.15 132C164.32 130.47 164.69 128.4 164.8 123.2C164.91 118 164.91 106 164.8 100.8C164.69 95.6 164.32 93.53 164.15 92C163.98 90.47 163.92 91.65 163.8 91.65Z" fill="#32bbf3"/>
<path d="M163.8 103.79C163.73 103.79 163.69 103.23 163.59 104C163.49 104.77 163.27 105.8 163.2 108.4C163.14 111 163.14 117 163.2 119.6C163.27 122.2 163.49 123.23 163.59 124C163.69 124.77 163.73 124.21 163.8 124.21C163.87 124.21 163.91 124.77 164.01 124C164.11 123.23 164.34 122.2 164.4 119.6C164.47 117 164.47 111 164.4 108.4C164.34 105.8 164.11 104.77 164.01 104C163.91 103.23 163.87 103.79 163.8 103.79Z" fill="#2b8aee"/>
<path d="M111.7 169.9C111.7 170 109.95 170.02 112 170.2C114.05 170.38 119.33 170.78 124 171C128.67 171.22 135.67 171.43 140 171.5C144.33 171.57 147.58 171.6 150 171.4C152.42 171.2 153.68 170.55 154.5 170.3C155.32 170.05 154.9 170.03 154.9 169.9C154.9 169.77 155.32 169.75 154.5 169.5C153.68 169.25 152.42 168.6 150 168.4C147.58 168.2 144.33 168.23 140 168.3C135.67 168.37 128.67 168.58 124 168.8C119.33 169.02 114.05 169.42 112 169.6C109.95 169.78 111.7 169.8 111.7 169.9Z" fill="#f7b51e"/>
<path d="M126.8 169.9C126.8 169.97 125.8 169.97 127 170.1C128.2 170.23 131.17 170.57 134 170.7C136.83 170.83 141.33 170.9 144 170.9C146.67 170.9 148.67 170.83 150 170.7C151.33 170.57 151.63 170.23 152 170.1C152.37 169.97 152.2 169.97 152.2 169.9C152.2 169.83 152.37 169.83 152 169.7C151.63 169.57 151.33 169.23 150 169.1C148.67 168.97 146.67 168.9 144 168.9C141.33 168.9 136.83 168.97 134 169.1C131.17 169.23 128.2 169.57 127 169.7C125.8 169.83 126.8 169.83 126.8 169.9Z" fill="#f47a18"/>
<path d="M137.85 169.9C137.85 169.95 137.31 169.98 138 170.05C138.69 170.12 140.67 170.3 142 170.35C143.33 170.4 144.92 170.4 146 170.35C147.08 170.3 148.06 170.12 148.5 170.05C148.94 169.98 148.65 169.95 148.65 169.9C148.65 169.85 148.94 169.82 148.5 169.75C148.06 169.68 147.08 169.5 146 169.45C144.92 169.4 143.33 169.4 142 169.45C140.67 169.5 138.69 169.68 138 169.75C137.31 169.82 137.85 169.85 137.85 169.9Z" fill="#e52e12"/>
<path d="M25.48 164.2C25.48 164.38 23.35 164.47 26 164.72C28.65 164.97 32.3 165.54 41.4 165.7C50.5 165.86 71.5 165.86 80.6 165.7C89.7 165.54 93.35 164.97 96 164.72C98.65 164.47 96.53 164.38 96.53 164.2C96.53 164.02 98.65 163.92 96 163.67C93.35 163.42 89.7 162.86 80.6 162.7C71.5 162.54 50.5 162.54 41.4 162.7C32.3 162.86 28.65 163.42 26 163.67C23.35 163.92 25.48 164.02 25.48 164.2Z" fill="#32bbf3"/>
<path d="M32.67 164.2C32.67 164.31 31.22 164.37 33 164.53C34.78 164.69 37.23 165.05 43.34 165.15C49.45 165.25 63.55 165.25 69.66 165.15C75.77 165.05 78.22 164.69 80 164.53C81.78 164.37 80.33 164.31 80.33 164.2C80.33 164.09 81.78 164.03 80 163.87C78.22 163.71 75.77 163.35 69.66 163.25C63.55 163.15 49.45 163.15 43.34 163.25C37.23 163.35 34.78 163.71 33 163.87C31.22 164.03 32.67 164.09 32.67 164.2Z" fill="#2b8aee"/>
<path d="M40.83 164.2C40.83 164.26 39.91 164.29 41 164.38C42.09 164.46 43.61 164.65 47.38 164.7C51.15 164.75 59.85 164.75 63.62 164.7C67.39 164.65 68.91 164.46 70 164.38C71.09 164.29 70.17 164.26 70.17 164.2C70.17 164.14 71.09 164.11 70 164.02C68.91 163.94 67.39 163.75 63.62 163.7C59.85 163.65 51.15 163.65 47.38 163.7C43.61 163.75 42.09 163.94 41 164.02C39.91 164.11 40.83 164.14 40.83 164.2Z" fill="#2a52e2"/>
</g></g>
<line x1="314.2" y1="256.7" x2="314.2" y2="436.3" stroke="#000" stroke-width="1.4"/>
<line x1="313.5" y1="435.6" x2="493.1" y2="435.6" stroke="#000" stroke-width="1.5"/>
<line x1="313.5" y1="257.35" x2="318.9" y2="257.35" stroke="#000" stroke-width="1.2"/>
<line x1="314.2" y1="257.7" x2="318.2" y2="257.7" stroke="#000" stroke-width="1.15"/>
<text x="309.6" y="262.8" font-size="10.6" text-anchor="end" fill="#000" stroke="#000" stroke-width="0.22">0.10</text>
<text x="314.6" y="448.6" font-size="10.6" text-anchor="middle" fill="#000" stroke="#000" stroke-width="0.22">-0.10</text>
<line x1="314.2" y1="301.5" x2="318.2" y2="301.5" stroke="#000" stroke-width="1.15"/>
<text x="309.6" y="306.2" font-size="10.6" text-anchor="end" fill="#000" stroke="#000" stroke-width="0.22">0.05</text>
<line x1="360.7" y1="435.6" x2="360.7" y2="431.4" stroke="#000" stroke-width="1.15"/>
<text x="359.8" y="448.6" font-size="10.6" text-anchor="middle" fill="#000" stroke="#000" stroke-width="0.22">-0.05</text>
<line x1="314.2" y1="345.5" x2="318.2" y2="345.5" stroke="#000" stroke-width="1.15"/>
<text x="309.6" y="349.6" font-size="10.6" text-anchor="end" fill="#000" stroke="#000" stroke-width="0.22">0.00</text>
<line x1="404.7" y1="435.6" x2="404.7" y2="431.4" stroke="#000" stroke-width="1.15"/>
<text x="403.9" y="448.6" font-size="10.6" text-anchor="middle" fill="#000" stroke="#000" stroke-width="0.22">0.00</text>
<line x1="314.2" y1="390" x2="318.2" y2="390" stroke="#000" stroke-width="1.15"/>
<text x="309.6" y="393" font-size="10.6" text-anchor="end" fill="#000" stroke="#000" stroke-width="0.22">-0.05</text>
<line x1="448.7" y1="435.6" x2="448.7" y2="431.4" stroke="#000" stroke-width="1.15"/>
<text x="449.7" y="448.6" font-size="10.6" text-anchor="middle" fill="#000" stroke="#000" stroke-width="0.22">0.05</text>
<line x1="314.2" y1="434.2" x2="318.2" y2="434.2" stroke="#000" stroke-width="1.15"/>
<text x="309.6" y="436.4" font-size="10.6" text-anchor="end" fill="#000" stroke="#000" stroke-width="0.22">-0.10</text>
<line x1="492.55" y1="435.6" x2="492.55" y2="431.4" stroke="#000" stroke-width="1.15"/>
<text x="491.5" y="448.6" font-size="10.6" text-anchor="middle" fill="#000" stroke="#000" stroke-width="0.22">0.10</text>
<text x="402.7" y="460.8" font-size="10.7" text-anchor="middle" fill="#000" stroke="#000" stroke-width="0.22">X (m)</text>
<text transform="translate(286 342.6) rotate(-90)" font-size="10.7" text-anchor="middle" fill="#000" stroke="#000" stroke-width="0.22">Y (m)</text>
<text x="316.6" y="271.4" font-size="13.2" fill="#000">(e)</text>
<rect x="510.6" y="287" width="11.6" height="11.35" fill="#b01212"/>
<rect x="510.6" y="298.2" width="11.6" height="11.35" fill="#e52e12"/>
<rect x="510.6" y="309.4" width="11.6" height="11.35" fill="#f47a18"/>
<rect x="510.6" y="320.6" width="11.6" height="11.35" fill="#f7b51e"/>
<rect x="510.6" y="331.8" width="11.6" height="11.35" fill="#e6ee26"/>
<rect x="510.6" y="343" width="11.6" height="11.35" fill="#98f250"/>
<rect x="510.6" y="354.2" width="11.6" height="11.35" fill="#66f8a0"/>
<rect x="510.6" y="365.4" width="11.6" height="11.35" fill="#3eeee2"/>
<rect x="510.6" y="376.6" width="11.6" height="11.35" fill="#32bbf3"/>
<rect x="510.6" y="387.8" width="11.6" height="11.35" fill="#2b8aee"/>
<rect x="510.6" y="399" width="11.6" height="11.35" fill="#2a52e2"/>
<rect x="510.6" y="410.2" width="11.6" height="11.35" fill="#2129b2"/>
<rect x="510.6" y="421.4" width="11.6" height="11.35" fill="#191a72"/>
<rect x="510.6" y="287" width="11.6" height="145.6" fill="none" stroke="#3a3a40" stroke-opacity=".85" stroke-width=".9"/>
<text x="528.4" y="290.1" font-size="10.55" fill="#000" stroke="#000" stroke-width=".12">1.19</text>
<text x="528.4" y="302.36" font-size="10.55" fill="#000" stroke="#000" stroke-width=".12">1.16</text>
<text x="528.4" y="314.32" font-size="10.55" fill="#000" stroke="#000" stroke-width=".12">1.13</text>
<text x="528.4" y="324.18" font-size="10.55" fill="#000" stroke="#000" stroke-width=".12">1.10</text>
<text x="528.4" y="335.54" font-size="10.55" fill="#000" stroke="#000" stroke-width=".12">1.07</text>
<text x="528.4" y="346.9" font-size="10.55" fill="#000" stroke="#000" stroke-width=".12">1.04</text>
<text x="528.4" y="358.26" font-size="10.55" fill="#000" stroke="#000" stroke-width=".12">1.01</text>
<text x="528.4" y="369.62" font-size="10.55" fill="#000" stroke="#000" stroke-width=".12">0.98</text>
<text x="528.4" y="380.98" font-size="10.55" fill="#000" stroke="#000" stroke-width=".12">0.95</text>
<text x="528.4" y="392.34" font-size="10.55" fill="#000" stroke="#000" stroke-width=".12">0.92</text>
<text x="528.4" y="403.7" font-size="10.55" fill="#000" stroke="#000" stroke-width=".12">0.89</text>
<text x="528.4" y="415.06" font-size="10.55" fill="#000" stroke="#000" stroke-width=".12">0.86</text>
<text x="528.4" y="426.42" font-size="10.55" fill="#000" stroke="#000" stroke-width=".12">0.83</text>
<text x="528.4" y="437.78" font-size="10.55" fill="#000" stroke="#000" stroke-width=".12">0.80</text>
<text x="493.4" y="266" font-size="10.35" fill="#000" stroke="#000" stroke-width=".1">Segregation</text>
<text x="504.8" y="278.4" font-size="10.35" fill="#000" stroke="#000" stroke-width=".1">degree</text>
<rect x="34.5" y="471.5" width="207.8" height="167.8" fill="#fff" stroke="#555" stroke-width="1"/>
<line x1="34.5" y1="632.55" x2="36.5" y2="632.55" stroke="#555" stroke-width="0.9"/>
<line x1="34.5" y1="622.1" x2="38.1" y2="622.1" stroke="#555" stroke-width="0.9"/>
<text x="30.5" y="625.5" font-size="10.3" text-anchor="end" fill="#1a1a1a">0.85</text>
<line x1="34.5" y1="611.65" x2="36.5" y2="611.65" stroke="#555" stroke-width="0.9"/>
<line x1="34.5" y1="601.2" x2="38.1" y2="601.2" stroke="#555" stroke-width="0.9"/>
<text x="30.5" y="604.6" font-size="10.3" text-anchor="end" fill="#1a1a1a">0.90</text>
<line x1="34.5" y1="590.75" x2="36.5" y2="590.75" stroke="#555" stroke-width="0.9"/>
<line x1="34.5" y1="580.3" x2="38.1" y2="580.3" stroke="#555" stroke-width="0.9"/>
<text x="30.5" y="583.7" font-size="10.3" text-anchor="end" fill="#1a1a1a">0.95</text>
<line x1="34.5" y1="569.85" x2="36.5" y2="569.85" stroke="#555" stroke-width="0.9"/>
<line x1="34.5" y1="559.4" x2="38.1" y2="559.4" stroke="#555" stroke-width="0.9"/>
<text x="30.5" y="562.8" font-size="10.3" text-anchor="end" fill="#1a1a1a">1.00</text>
<line x1="34.5" y1="548.95" x2="36.5" y2="548.95" stroke="#555" stroke-width="0.9"/>
<line x1="34.5" y1="538.5" x2="38.1" y2="538.5" stroke="#555" stroke-width="0.9"/>
<text x="30.5" y="541.9" font-size="10.3" text-anchor="end" fill="#1a1a1a">1.05</text>
<line x1="34.5" y1="528.05" x2="36.5" y2="528.05" stroke="#555" stroke-width="0.9"/>
<line x1="34.5" y1="517.6" x2="38.1" y2="517.6" stroke="#555" stroke-width="0.9"/>
<text x="30.5" y="521" font-size="10.3" text-anchor="end" fill="#1a1a1a">1.10</text>
<line x1="34.5" y1="507.15" x2="36.5" y2="507.15" stroke="#555" stroke-width="0.9"/>
<line x1="34.5" y1="496.7" x2="38.1" y2="496.7" stroke="#555" stroke-width="0.9"/>
<text x="30.5" y="500.1" font-size="10.3" text-anchor="end" fill="#1a1a1a">1.15</text>
<line x1="34.5" y1="486.25" x2="36.5" y2="486.25" stroke="#555" stroke-width="0.9"/>
<line x1="34.5" y1="475.8" x2="38.1" y2="475.8" stroke="#555" stroke-width="0.9"/>
<text x="30.5" y="479.2" font-size="10.3" text-anchor="end" fill="#1a1a1a">1.20</text>
<line x1="55.8" y1="639.3" x2="55.8" y2="635.7" stroke="#555" stroke-width="0.9"/>
<text x="55.4" y="650.8" font-size="10.3" text-anchor="middle" fill="#1a1a1a">-0.10</text>
<line x1="76.5" y1="639.3" x2="76.5" y2="637.3" stroke="#555" stroke-width="0.9"/>
<line x1="97.2" y1="639.3" x2="97.2" y2="635.7" stroke="#555" stroke-width="0.9"/>
<text x="96.8" y="650.8" font-size="10.3" text-anchor="middle" fill="#1a1a1a">-0.05</text>
<line x1="117.9" y1="639.3" x2="117.9" y2="637.3" stroke="#555" stroke-width="0.9"/>
<line x1="138.6" y1="639.3" x2="138.6" y2="635.7" stroke="#555" stroke-width="0.9"/>
<text x="138.2" y="650.8" font-size="10.3" text-anchor="middle" fill="#1a1a1a">0.00</text>
<line x1="159.3" y1="639.3" x2="159.3" y2="637.3" stroke="#555" stroke-width="0.9"/>
<line x1="180" y1="639.3" x2="180" y2="635.7" stroke="#555" stroke-width="0.9"/>
<text x="179.6" y="650.8" font-size="10.3" text-anchor="middle" fill="#1a1a1a">0.05</text>
<line x1="200.7" y1="639.3" x2="200.7" y2="637.3" stroke="#555" stroke-width="0.9"/>
<line x1="221.4" y1="639.3" x2="221.4" y2="635.7" stroke="#555" stroke-width="0.9"/>
<text x="221" y="650.8" font-size="10.3" text-anchor="middle" fill="#1a1a1a">0.10</text>
<text x="69.9" y="660.8" font-size="11" fill="#111">Distance from billet center (m)</text>
<text transform="translate(9.9 551.5) rotate(-90)" font-size="11" text-anchor="middle" fill="#111">Segregation degree</text>
<text x="44.5" y="489" font-size="14.2" fill="#000">(c)</text>
<line x1="125.7" y1="478.7" x2="149.3" y2="478.7" stroke="#505050" stroke-width="1.3"/>
<line x1="125.7" y1="491.1" x2="149.3" y2="491.1" stroke="#f03a3a" stroke-width="1.3"/>
<text x="152" y="481.9" font-size="10.3" fill="#111">Without M-EMS</text>
<text x="152" y="494.6" font-size="10.3" fill="#111">M-EMS at 250A-2Hz</text>
<polyline points="54.6,566.2 57.8,583.6 58.2,589" fill="none" stroke="#4a4a4a" stroke-width="1.35" stroke-linejoin="miter" stroke-miterlimit="6"/>
<polyline points="200,559.4 205.2,559.4 208.4,555.4 211.4,533 213,536.2 218.2,584.8 221,567.4" fill="none" stroke="#4a4a4a" stroke-width="1.35" stroke-linejoin="miter" stroke-miterlimit="6"/>
<polyline points="54.4,578.8 58,590.6 61.4,537.8 64.4,572.8 66,565 67.6,561.2 69.4,559.8 71.4,559.4 205.2,559.4 211.4,567 214.8,530.8 218.2,590.2 221,578.8" fill="none" stroke="#f23434" stroke-width="1.35" stroke-linejoin="miter" stroke-miterlimit="6"/>
<rect x="76" y="576.6" width="33.8" height="34.4" fill="#a9bde6" stroke="#4f6fb8" stroke-width="1"/>
<line x1="93" y1="577.1" x2="93" y2="610.6" stroke="#3f6fd0" stroke-width="0.9" stroke-dasharray="2 1.6"/>
<line x1="93" y1="596.6" x2="122" y2="596.6" stroke="#4a7fd8" stroke-width="1"/>
<polyline points="118.6,593.8 122.4,596.6 118.6,599.4" fill="none" stroke="#4a7fd8" stroke-width="1"/>
<text x="123" y="599.8" font-size="9.35" fill="#111">Sampling line</text>
<text x="74" y="622.8" font-size="9.35" fill="#111">Fixed side</text>
<rect x="314.4" y="471.5" width="207.8" height="167.8" fill="#fff" stroke="#555" stroke-width="1"/>
<line x1="314.4" y1="632.55" x2="316.4" y2="632.55" stroke="#555" stroke-width="0.9"/>
<line x1="314.4" y1="622.1" x2="318" y2="622.1" stroke="#555" stroke-width="0.9"/>
<text x="310.4" y="625.5" font-size="10.3" text-anchor="end" fill="#1a1a1a">0.85</text>
<line x1="314.4" y1="611.65" x2="316.4" y2="611.65" stroke="#555" stroke-width="0.9"/>
<line x1="314.4" y1="601.2" x2="318" y2="601.2" stroke="#555" stroke-width="0.9"/>
<text x="310.4" y="604.6" font-size="10.3" text-anchor="end" fill="#1a1a1a">0.90</text>
<line x1="314.4" y1="590.75" x2="316.4" y2="590.75" stroke="#555" stroke-width="0.9"/>
<line x1="314.4" y1="580.3" x2="318" y2="580.3" stroke="#555" stroke-width="0.9"/>
<text x="310.4" y="583.7" font-size="10.3" text-anchor="end" fill="#1a1a1a">0.95</text>
<line x1="314.4" y1="569.85" x2="316.4" y2="569.85" stroke="#555" stroke-width="0.9"/>
<line x1="314.4" y1="559.4" x2="318" y2="559.4" stroke="#555" stroke-width="0.9"/>
<text x="310.4" y="562.8" font-size="10.3" text-anchor="end" fill="#1a1a1a">1.00</text>
<line x1="314.4" y1="548.95" x2="316.4" y2="548.95" stroke="#555" stroke-width="0.9"/>
<line x1="314.4" y1="538.5" x2="318" y2="538.5" stroke="#555" stroke-width="0.9"/>
<text x="310.4" y="541.9" font-size="10.3" text-anchor="end" fill="#1a1a1a">1.05</text>
<line x1="314.4" y1="528.05" x2="316.4" y2="528.05" stroke="#555" stroke-width="0.9"/>
<line x1="314.4" y1="517.6" x2="318" y2="517.6" stroke="#555" stroke-width="0.9"/>
<text x="310.4" y="521" font-size="10.3" text-anchor="end" fill="#1a1a1a">1.10</text>
<line x1="314.4" y1="507.15" x2="316.4" y2="507.15" stroke="#555" stroke-width="0.9"/>
<line x1="314.4" y1="496.7" x2="318" y2="496.7" stroke="#555" stroke-width="0.9"/>
<text x="310.4" y="500.1" font-size="10.3" text-anchor="end" fill="#1a1a1a">1.15</text>
<line x1="314.4" y1="486.25" x2="316.4" y2="486.25" stroke="#555" stroke-width="0.9"/>
<line x1="314.4" y1="475.8" x2="318" y2="475.8" stroke="#555" stroke-width="0.9"/>
<text x="310.4" y="479.2" font-size="10.3" text-anchor="end" fill="#1a1a1a">1.20</text>
<line x1="335.7" y1="639.3" x2="335.7" y2="635.7" stroke="#555" stroke-width="0.9"/>
<text x="335.3" y="650.8" font-size="10.3" text-anchor="middle" fill="#1a1a1a">-0.10</text>
<line x1="356.4" y1="639.3" x2="356.4" y2="637.3" stroke="#555" stroke-width="0.9"/>
<line x1="377.1" y1="639.3" x2="377.1" y2="635.7" stroke="#555" stroke-width="0.9"/>
<text x="376.7" y="650.8" font-size="10.3" text-anchor="middle" fill="#1a1a1a">-0.05</text>
<line x1="397.8" y1="639.3" x2="397.8" y2="637.3" stroke="#555" stroke-width="0.9"/>
<line x1="418.5" y1="639.3" x2="418.5" y2="635.7" stroke="#555" stroke-width="0.9"/>
<text x="418.1" y="650.8" font-size="10.3" text-anchor="middle" fill="#1a1a1a">0.00</text>
<line x1="439.2" y1="639.3" x2="439.2" y2="637.3" stroke="#555" stroke-width="0.9"/>
<line x1="459.9" y1="639.3" x2="459.9" y2="635.7" stroke="#555" stroke-width="0.9"/>
<text x="459.5" y="650.8" font-size="10.3" text-anchor="middle" fill="#1a1a1a">0.05</text>
<line x1="480.6" y1="639.3" x2="480.6" y2="637.3" stroke="#555" stroke-width="0.9"/>
<line x1="501.3" y1="639.3" x2="501.3" y2="635.7" stroke="#555" stroke-width="0.9"/>
<text x="500.9" y="650.8" font-size="10.3" text-anchor="middle" fill="#1a1a1a">0.10</text>
<text x="349.8" y="660.8" font-size="11" fill="#111">Distance from billet center (m)</text>
<text transform="translate(289.8 551.5) rotate(-90)" font-size="11" text-anchor="middle" fill="#111">Segregation degree</text>
<text x="323.3" y="489" font-size="14.2" fill="#000">(f)</text>
<line x1="405.6" y1="478.7" x2="429.2" y2="478.7" stroke="#505050" stroke-width="1.3"/>
<line x1="405.6" y1="491.1" x2="429.2" y2="491.1" stroke="#f03a3a" stroke-width="1.3"/>
<text x="431.9" y="481.9" font-size="10.3" fill="#111">Without M-EMS</text>
<text x="431.9" y="494.6" font-size="10.3" fill="#111">M-EMS at 250A-2Hz</text>
<polyline points="334.6,572.1 337.9,578.8 343.7,502 347.4,553.9 350.4,555.2 354.1,559.6 358,559.6" fill="none" stroke="#4a4a4a" stroke-width="1.35" stroke-linejoin="miter" stroke-miterlimit="6"/>
<polyline points="478,559.6 481,559.7 485,560.6 489,559.7 491.7,556.6 494.4,544.4 498.2,582.9 500.5,568" fill="none" stroke="#4a4a4a" stroke-width="1.35" stroke-linejoin="miter" stroke-miterlimit="6"/>
<polyline points="335,577.5 337.9,592.3 341.3,533.6 344.4,577.5 347.4,576.4 350.4,570.7 354.1,559.6 481.6,559.6 488.3,577.2 494.4,531.6 497.5,590.6 499.1,582.9 500.5,578.8" fill="none" stroke="#f23434" stroke-width="1.35" stroke-linejoin="miter" stroke-miterlimit="6"/>
<rect x="354.2" y="585.4" width="33.8" height="34.4" fill="#a9bde6" stroke="#4f6fb8" stroke-width="1"/>
<line x1="371.2" y1="585.9" x2="371.2" y2="619.4" stroke="#3f6fd0" stroke-width="0.9" stroke-dasharray="2 1.6"/>
<line x1="371.2" y1="604.7" x2="400.2" y2="604.7" stroke="#4a7fd8" stroke-width="1"/>
<polyline points="396.8,601.9 400.6,604.7 396.8,607.5" fill="none" stroke="#4a7fd8" stroke-width="1"/>
<text x="401.2" y="607.9" font-size="9.35" fill="#111">Sampling line</text>
<text x="352.2" y="631.6" font-size="9.35" fill="#111">Fixed side</text>
</svg></body></html>
